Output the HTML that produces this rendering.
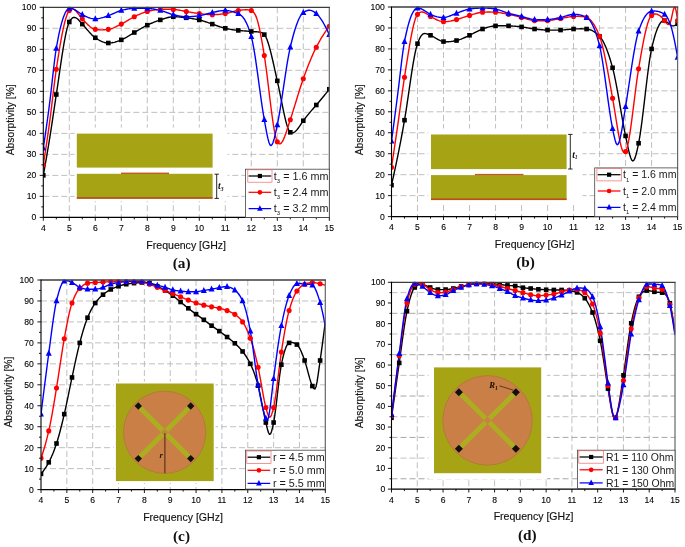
<!DOCTYPE html>
<html lang="en"><head><meta charset="utf-8"><title>Absorptivity versus frequency - parametric study</title>
<style>html,body{margin:0;padding:0;background:#fff}body{width:685px;height:547px;overflow:hidden}svg{display:block;filter:blur(0.55px)}</style>
</head><body>
<svg width="685" height="547" viewBox="0 0 685 547">
<rect width="685" height="547" fill="#fff"/>
<g id="panel-a">
<clipPath id="clip-a"><rect x="43.3" y="6.7" width="286.4" height="210.7"/></clipPath>
<path d="M69.3 7.3 V217.4 M95.3 7.3 V217.4 M121.3 7.3 V217.4 M147.3 7.3 V217.4 M173.3 7.3 V217.4 M199.3 7.3 V217.4 M225.3 7.3 V217.4 M251.3 7.3 V217.4 M277.3 7.3 V217.4 M303.3 7.3 V217.4 M43.3 196.39 H329.3 M43.3 175.38 H329.3 M43.3 154.37 H329.3 M43.3 133.36 H329.3 M43.3 112.35 H329.3 M43.3 91.34 H329.3 M43.3 70.33 H329.3 M43.3 49.32 H329.3 M43.3 28.31 H329.3" stroke="#b0b0b0" stroke-width="0.8" stroke-dasharray="6 3" fill="none"/>
<rect x="74.6" y="127.6" width="153" height="73.6" fill="#fff"/>
<rect x="76.8" y="133.6" width="135.8" height="34" fill="#a6a414"/>
<rect x="76.8" y="173.8" width="135.8" height="24.8" fill="#a6a414"/>
<rect x="76.8" y="197.1" width="135.8" height="1.7" fill="#b9501c"/>
<rect x="121" y="172.6" width="48" height="1.4" fill="#be5a22"/>
<path d="M216.7 174.2 V198.4 M214.5 174.2 h4.4 M214.5 198.4 h4.4" stroke="#111" stroke-width="0.9" fill="none"/>
<text x="218" y="189.3" font-family="'Liberation Serif', serif" font-style="italic" font-weight="bold" font-size="9.6" fill="#111">t<tspan font-size="5.6" dy="1.8">3</tspan></text>
<g clip-path="url(#clip-a)">
<path d="M43.3 175.38 L44.34 169.6 L45.38 163.73 L46.42 157.77 L47.46 151.69 L48.5 145.5 L49.54 139.17 L50.58 132.65 L51.62 125.88 L52.66 118.93 L53.7 111.9 L54.74 104.87 L55.78 97.91 L56.82 91.06 L57.86 84.04 L58.9 76.88 L59.94 69.7 L60.98 62.61 L62.02 55.71 L63.06 49.12 L64.1 42.94 L65.14 37.28 L66.18 32.25 L67.22 27.95 L68.26 24.5 L69.3 22.01 L70.34 20.24 L71.38 18.9 L72.42 17.98 L73.46 17.48 L74.5 17.38 L75.54 17.66 L76.58 18.25 L77.62 19.07 L78.66 20.07 L79.7 21.2 L80.74 22.37 L81.78 23.54 L82.82 24.67 L83.86 25.82 L84.9 27.01 L85.94 28.23 L86.98 29.44 L88.02 30.66 L89.06 31.85 L90.1 33 L91.14 34.11 L92.18 35.16 L93.22 36.12 L94.26 37 L95.3 37.76 L96.34 38.46 L97.38 39.12 L98.42 39.75 L99.46 40.33 L100.5 40.87 L101.54 41.35 L102.58 41.79 L103.62 42.16 L104.66 42.48 L105.7 42.72 L106.74 42.9 L107.78 43 L108.82 43.02 L109.86 42.98 L110.9 42.89 L111.94 42.75 L112.98 42.56 L114.02 42.33 L115.06 42.06 L116.1 41.75 L117.14 41.42 L118.18 41.06 L119.22 40.68 L120.26 40.28 L121.3 39.87 L122.34 39.42 L123.38 38.94 L124.42 38.41 L125.46 37.85 L126.5 37.26 L127.54 36.65 L128.58 36.02 L129.62 35.38 L130.66 34.73 L131.7 34.09 L132.74 33.45 L133.78 32.82 L134.82 32.21 L135.86 31.59 L136.9 30.97 L137.94 30.35 L138.98 29.73 L140.02 29.12 L141.06 28.51 L142.1 27.91 L143.14 27.33 L144.18 26.76 L145.22 26.2 L146.26 25.67 L147.3 25.16 L148.34 24.67 L149.38 24.18 L150.42 23.72 L151.46 23.26 L152.5 22.82 L153.54 22.38 L154.58 21.97 L155.62 21.56 L156.66 21.17 L157.7 20.79 L158.74 20.43 L159.78 20.08 L160.82 19.74 L161.86 19.39 L162.9 19.05 L163.94 18.72 L164.98 18.39 L166.02 18.08 L167.06 17.79 L168.1 17.52 L169.14 17.29 L170.18 17.09 L171.22 16.93 L172.26 16.82 L173.3 16.75 L174.34 16.73 L175.38 16.74 L176.42 16.77 L177.46 16.83 L178.5 16.9 L179.54 17 L180.58 17.1 L181.62 17.22 L182.66 17.34 L183.7 17.48 L184.74 17.61 L185.78 17.74 L186.82 17.87 L187.86 18 L188.9 18.14 L189.94 18.27 L190.98 18.42 L192.02 18.57 L193.06 18.73 L194.1 18.9 L195.14 19.07 L196.18 19.26 L197.22 19.46 L198.26 19.68 L199.3 19.91 L200.34 20.16 L201.38 20.43 L202.42 20.73 L203.46 21.05 L204.5 21.38 L205.54 21.73 L206.58 22.09 L207.62 22.45 L208.66 22.82 L209.7 23.19 L210.74 23.56 L211.78 23.93 L212.82 24.29 L213.86 24.65 L214.9 25.02 L215.94 25.39 L216.98 25.76 L218.02 26.12 L219.06 26.48 L220.1 26.82 L221.14 27.16 L222.18 27.48 L223.22 27.78 L224.26 28.06 L225.3 28.31 L226.34 28.54 L227.38 28.77 L228.42 28.97 L229.46 29.17 L230.5 29.36 L231.54 29.53 L232.58 29.69 L233.62 29.84 L234.66 29.99 L235.7 30.12 L236.74 30.24 L237.78 30.36 L238.82 30.46 L239.86 30.56 L240.9 30.66 L241.94 30.75 L242.98 30.83 L244.02 30.91 L245.06 30.99 L246.1 31.07 L247.14 31.15 L248.18 31.22 L249.22 31.3 L250.26 31.38 L251.3 31.46 L252.34 31.54 L253.38 31.62 L254.42 31.68 L255.46 31.75 L256.5 31.81 L257.54 31.87 L258.58 31.94 L259.62 32.08 L260.66 32.32 L261.7 32.72 L262.74 33.3 L263.78 34.11 L264.82 35.24 L265.86 36.99 L266.9 39.34 L267.94 42.23 L268.98 45.58 L270.02 49.33 L271.06 53.41 L272.1 57.75 L273.14 62.27 L274.18 66.91 L275.22 71.59 L276.26 76.26 L277.3 80.84 L278.34 85.53 L279.38 90.52 L280.42 95.69 L281.46 100.93 L282.5 106.13 L283.54 111.18 L284.58 115.95 L285.62 120.34 L286.66 124.23 L287.7 127.52 L288.74 130.08 L289.78 131.8 L290.82 132.64 L291.86 132.98 L292.9 132.91 L293.94 132.5 L294.98 131.78 L296.02 130.81 L297.06 129.63 L298.1 128.29 L299.14 126.82 L300.18 125.29 L301.22 123.74 L302.26 122.21 L303.3 120.75 L304.34 119.36 L305.38 118.01 L306.42 116.68 L307.46 115.38 L308.5 114.1 L309.54 112.85 L310.58 111.61 L311.62 110.39 L312.66 109.18 L313.7 107.98 L314.74 106.78 L315.78 105.59 L316.82 104.4 L317.86 103.19 L318.9 101.97 L319.94 100.73 L320.98 99.49 L322.02 98.23 L323.06 96.96 L324.1 95.69 L325.14 94.41 L326.18 93.12 L327.22 91.83 L328.26 90.53 L329.3 89.24" stroke="#000000" stroke-width="1.4" fill="none" stroke-linejoin="round"/>
<path d="M43.3 164.88 L44.34 158.26 L45.38 151.51 L46.42 144.61 L47.46 137.52 L48.5 130.22 L49.54 122.68 L50.58 114.77 L51.62 106.34 L52.66 97.67 L53.7 89.02 L54.74 80.66 L55.78 72.88 L56.82 65.82 L57.86 59.04 L58.9 52.49 L59.94 46.22 L60.98 40.28 L62.02 34.71 L63.06 29.57 L64.1 24.91 L65.14 20.77 L66.18 17.2 L67.22 14.26 L68.26 12 L69.3 10.45 L70.34 9.45 L71.38 8.87 L72.42 8.79 L73.46 9.11 L74.5 9.74 L75.54 10.63 L76.58 11.72 L77.62 12.96 L78.66 14.29 L79.7 15.66 L80.74 17 L81.78 18.27 L82.82 19.42 L83.86 20.56 L84.9 21.69 L85.94 22.8 L86.98 23.87 L88.02 24.88 L89.06 25.83 L90.1 26.7 L91.14 27.48 L92.18 28.15 L93.22 28.69 L94.26 29.1 L95.3 29.36 L96.34 29.52 L97.38 29.65 L98.42 29.74 L99.46 29.81 L100.5 29.84 L101.54 29.85 L102.58 29.83 L103.62 29.79 L104.66 29.73 L105.7 29.65 L106.74 29.54 L107.78 29.43 L108.82 29.28 L109.86 29.08 L110.9 28.81 L111.94 28.48 L112.98 28.1 L114.02 27.68 L115.06 27.22 L116.1 26.74 L117.14 26.23 L118.18 25.7 L119.22 25.17 L120.26 24.64 L121.3 24.11 L122.34 23.57 L123.38 23.01 L124.42 22.42 L125.46 21.82 L126.5 21.2 L127.54 20.58 L128.58 19.96 L129.62 19.34 L130.66 18.73 L131.7 18.14 L132.74 17.57 L133.78 17.02 L134.82 16.5 L135.86 15.98 L136.9 15.48 L137.94 14.99 L138.98 14.52 L140.02 14.06 L141.06 13.62 L142.1 13.2 L143.14 12.81 L144.18 12.44 L145.22 12.09 L146.26 11.78 L147.3 11.5 L148.34 11.24 L149.38 11 L150.42 10.76 L151.46 10.54 L152.5 10.34 L153.54 10.15 L154.58 9.98 L155.62 9.82 L156.66 9.69 L157.7 9.58 L158.74 9.49 L159.78 9.42 L160.82 9.38 L161.86 9.35 L162.9 9.32 L163.94 9.29 L164.98 9.28 L166.02 9.27 L167.06 9.26 L168.1 9.27 L169.14 9.28 L170.18 9.29 L171.22 9.32 L172.26 9.36 L173.3 9.4 L174.34 9.47 L175.38 9.57 L176.42 9.69 L177.46 9.84 L178.5 10.01 L179.54 10.2 L180.58 10.39 L181.62 10.6 L182.66 10.81 L183.7 11.01 L184.74 11.22 L185.78 11.41 L186.82 11.59 L187.86 11.78 L188.9 11.96 L189.94 12.14 L190.98 12.33 L192.02 12.51 L193.06 12.68 L194.1 12.86 L195.14 13.02 L196.18 13.18 L197.22 13.33 L198.26 13.47 L199.3 13.6 L200.34 13.73 L201.38 13.85 L202.42 13.97 L203.46 14.08 L204.5 14.19 L205.54 14.29 L206.58 14.38 L207.62 14.46 L208.66 14.53 L209.7 14.58 L210.74 14.62 L211.78 14.65 L212.82 14.65 L213.86 14.64 L214.9 14.62 L215.94 14.57 L216.98 14.51 L218.02 14.44 L219.06 14.36 L220.1 14.26 L221.14 14.15 L222.18 14.03 L223.22 13.9 L224.26 13.75 L225.3 13.6 L226.34 13.42 L227.38 13.21 L228.42 12.95 L229.46 12.68 L230.5 12.38 L231.54 12.08 L232.58 11.78 L233.62 11.48 L234.66 11.2 L235.7 10.94 L236.74 10.72 L237.78 10.53 L238.82 10.38 L239.86 10.24 L240.9 10.11 L241.94 10 L242.98 9.9 L244.02 9.83 L245.06 9.78 L246.1 9.78 L247.14 9.81 L248.18 9.89 L249.22 10.02 L250.26 10.2 L251.3 10.45 L252.34 10.98 L253.38 11.97 L254.42 13.37 L255.46 15.14 L256.5 17.62 L257.54 20.9 L258.58 24.89 L259.62 29.5 L260.66 34.64 L261.7 40.24 L262.74 46.2 L263.78 52.43 L264.82 58.95 L265.86 66.23 L266.9 74.15 L267.94 82.5 L268.98 91.07 L270.02 99.65 L271.06 108.01 L272.1 115.95 L273.14 123.25 L274.18 129.69 L275.22 135.07 L276.26 139.17 L277.3 141.76 L278.34 143.18 L279.38 143.83 L280.42 143.7 L281.46 142.84 L282.5 141.35 L283.54 139.33 L284.58 136.86 L285.62 134.06 L286.66 131 L287.7 127.79 L288.74 124.52 L289.78 121.28 L290.82 118.13 L291.86 114.92 L292.9 111.63 L293.94 108.27 L294.98 104.88 L296.02 101.47 L297.06 98.06 L298.1 94.66 L299.14 91.31 L300.18 88.03 L301.22 84.82 L302.26 81.72 L303.3 78.73 L304.34 75.84 L305.38 73 L306.42 70.22 L307.46 67.49 L308.5 64.83 L309.54 62.23 L310.58 59.7 L311.62 57.24 L312.66 54.86 L313.7 52.57 L314.74 50.36 L315.78 48.24 L316.82 46.21 L317.86 44.25 L318.9 42.35 L319.94 40.5 L320.98 38.71 L322.02 36.98 L323.06 35.3 L324.1 33.67 L325.14 32.08 L326.18 30.55 L327.22 29.06 L328.26 27.61 L329.3 26.21" stroke="#ff0000" stroke-width="1.4" fill="none" stroke-linejoin="round"/>
<path d="M43.3 148.07 L44.34 141.17 L45.38 134.13 L46.42 126.92 L47.46 119.5 L48.5 111.83 L49.54 103.88 L50.58 95.44 L51.62 86.32 L52.66 76.93 L53.7 67.71 L54.74 59.09 L55.78 51.52 L56.82 45.28 L57.86 39.63 L58.9 34.43 L59.94 29.7 L60.98 25.43 L62.02 21.62 L63.06 18.28 L64.1 15.42 L65.14 13.04 L66.18 11.13 L67.22 9.71 L68.26 8.79 L69.3 8.35 L70.34 8.26 L71.38 8.37 L72.42 8.63 L73.46 9.03 L74.5 9.55 L75.54 10.16 L76.58 10.84 L77.62 11.55 L78.66 12.29 L79.7 13.02 L80.74 13.72 L81.78 14.36 L82.82 14.93 L83.86 15.48 L84.9 16 L85.94 16.49 L86.98 16.94 L88.02 17.36 L89.06 17.74 L90.1 18.07 L91.14 18.34 L92.18 18.57 L93.22 18.73 L94.26 18.83 L95.3 18.86 L96.34 18.82 L97.38 18.73 L98.42 18.59 L99.46 18.4 L100.5 18.18 L101.54 17.91 L102.58 17.62 L103.62 17.31 L104.66 16.97 L105.7 16.62 L106.74 16.26 L107.78 15.89 L108.82 15.52 L109.86 15.11 L110.9 14.68 L111.94 14.23 L112.98 13.76 L114.02 13.29 L115.06 12.82 L116.1 12.36 L117.14 11.92 L118.18 11.5 L119.22 11.11 L120.26 10.76 L121.3 10.45 L122.34 10.18 L123.38 9.92 L124.42 9.68 L125.46 9.45 L126.5 9.25 L127.54 9.06 L128.58 8.89 L129.62 8.74 L130.66 8.61 L131.7 8.51 L132.74 8.43 L133.78 8.37 L134.82 8.34 L135.86 8.31 L136.9 8.29 L137.94 8.27 L138.98 8.26 L140.02 8.25 L141.06 8.25 L142.1 8.25 L143.14 8.26 L144.18 8.27 L145.22 8.29 L146.26 8.32 L147.3 8.35 L148.34 8.4 L149.38 8.48 L150.42 8.58 L151.46 8.7 L152.5 8.85 L153.54 9.01 L154.58 9.2 L155.62 9.4 L156.66 9.61 L157.7 9.84 L158.74 10.08 L159.78 10.32 L160.82 10.58 L161.86 10.87 L162.9 11.19 L163.94 11.53 L164.98 11.89 L166.02 12.26 L167.06 12.64 L168.1 13.01 L169.14 13.38 L170.18 13.73 L171.22 14.07 L172.26 14.38 L173.3 14.65 L174.34 14.91 L175.38 15.16 L176.42 15.4 L177.46 15.63 L178.5 15.84 L179.54 16.04 L180.58 16.21 L181.62 16.37 L182.66 16.5 L183.7 16.61 L184.74 16.69 L185.78 16.74 L186.82 16.76 L187.86 16.76 L188.9 16.74 L189.94 16.7 L190.98 16.64 L192.02 16.57 L193.06 16.48 L194.1 16.38 L195.14 16.27 L196.18 16.14 L197.22 16.01 L198.26 15.86 L199.3 15.7 L200.34 15.53 L201.38 15.33 L202.42 15.1 L203.46 14.85 L204.5 14.59 L205.54 14.32 L206.58 14.04 L207.62 13.76 L208.66 13.47 L209.7 13.2 L210.74 12.93 L211.78 12.67 L212.82 12.43 L213.86 12.19 L214.9 11.95 L215.94 11.71 L216.98 11.48 L218.02 11.26 L219.06 11.06 L220.1 10.88 L221.14 10.73 L222.18 10.6 L223.22 10.51 L224.26 10.46 L225.3 10.45 L226.34 10.49 L227.38 10.57 L228.42 10.7 L229.46 10.87 L230.5 11.07 L231.54 11.32 L232.58 11.59 L233.62 11.9 L234.66 12.23 L235.7 12.6 L236.74 12.98 L237.78 13.39 L238.82 13.84 L239.86 14.42 L240.9 15.19 L241.94 16.15 L242.98 17.32 L244.02 18.73 L245.06 20.39 L246.1 22.32 L247.14 24.55 L248.18 27.08 L249.22 29.94 L250.26 33.14 L251.3 36.71 L252.34 40.98 L253.38 46.17 L254.42 52.13 L255.46 58.71 L256.5 65.79 L257.54 73.2 L258.58 80.81 L259.62 88.47 L260.66 96.04 L261.7 103.37 L262.74 110.31 L263.78 116.74 L264.82 122.6 L265.86 128.38 L266.9 133.85 L267.94 138.66 L268.98 142.44 L270.02 144.85 L271.06 145.55 L272.1 144.56 L273.14 142.21 L274.18 138.79 L275.22 134.58 L276.26 129.88 L277.3 124.96 L278.34 119.7 L279.38 113.86 L280.42 107.57 L281.46 100.93 L282.5 94.07 L283.54 87.1 L284.58 80.14 L285.62 73.3 L286.66 66.7 L287.7 60.47 L288.74 54.71 L289.78 49.54 L290.82 45.02 L291.86 40.78 L292.9 36.79 L293.94 33.04 L294.98 29.56 L296.02 26.35 L297.06 23.42 L298.1 20.8 L299.14 18.48 L300.18 16.48 L301.22 14.82 L302.26 13.51 L303.3 12.55 L304.34 11.84 L305.38 11.25 L306.42 10.8 L307.46 10.47 L308.5 10.28 L309.54 10.23 L310.58 10.34 L311.62 10.62 L312.66 11.07 L313.7 11.65 L314.74 12.36 L315.78 13.17 L316.82 14.07 L317.86 15.12 L318.9 16.32 L319.94 17.66 L320.98 19.13 L322.02 20.73 L323.06 22.45 L324.1 24.27 L325.14 26.18 L326.18 28.18 L327.22 30.26 L328.26 32.41 L329.3 34.61" stroke="#0000ff" stroke-width="1.4" fill="none" stroke-linejoin="round"/>
<rect x="41" y="173.08" width="4.6" height="4.6" fill="#000000"/>
<rect x="54" y="92.19" width="4.6" height="4.6" fill="#000000"/>
<rect x="67" y="19.71" width="4.6" height="4.6" fill="#000000"/>
<rect x="80" y="21.81" width="4.6" height="4.6" fill="#000000"/>
<rect x="93" y="35.46" width="4.6" height="4.6" fill="#000000"/>
<rect x="106" y="40.72" width="4.6" height="4.6" fill="#000000"/>
<rect x="119" y="37.57" width="4.6" height="4.6" fill="#000000"/>
<rect x="132" y="30.21" width="4.6" height="4.6" fill="#000000"/>
<rect x="145" y="22.86" width="4.6" height="4.6" fill="#000000"/>
<rect x="158" y="17.61" width="4.6" height="4.6" fill="#000000"/>
<rect x="171" y="14.45" width="4.6" height="4.6" fill="#000000"/>
<rect x="184" y="15.51" width="4.6" height="4.6" fill="#000000"/>
<rect x="197" y="17.61" width="4.6" height="4.6" fill="#000000"/>
<rect x="210" y="21.81" width="4.6" height="4.6" fill="#000000"/>
<rect x="223" y="26.01" width="4.6" height="4.6" fill="#000000"/>
<rect x="236" y="28.11" width="4.6" height="4.6" fill="#000000"/>
<rect x="249" y="29.16" width="4.6" height="4.6" fill="#000000"/>
<rect x="262" y="32.31" width="4.6" height="4.6" fill="#000000"/>
<rect x="275" y="78.54" width="4.6" height="4.6" fill="#000000"/>
<rect x="288" y="130.01" width="4.6" height="4.6" fill="#000000"/>
<rect x="301" y="118.45" width="4.6" height="4.6" fill="#000000"/>
<rect x="314" y="102.7" width="4.6" height="4.6" fill="#000000"/>
<rect x="327" y="86.94" width="4.6" height="4.6" fill="#000000"/>
<circle cx="43.3" cy="164.88" r="2.55" fill="#ff0000"/>
<circle cx="56.3" cy="69.28" r="2.55" fill="#ff0000"/>
<circle cx="69.3" cy="10.45" r="2.55" fill="#ff0000"/>
<circle cx="82.3" cy="18.86" r="2.55" fill="#ff0000"/>
<circle cx="95.3" cy="29.36" r="2.55" fill="#ff0000"/>
<circle cx="108.3" cy="29.36" r="2.55" fill="#ff0000"/>
<circle cx="121.3" cy="24.11" r="2.55" fill="#ff0000"/>
<circle cx="134.3" cy="16.75" r="2.55" fill="#ff0000"/>
<circle cx="147.3" cy="11.5" r="2.55" fill="#ff0000"/>
<circle cx="160.3" cy="9.4" r="2.55" fill="#ff0000"/>
<circle cx="173.3" cy="9.4" r="2.55" fill="#ff0000"/>
<circle cx="186.3" cy="11.5" r="2.55" fill="#ff0000"/>
<circle cx="199.3" cy="13.6" r="2.55" fill="#ff0000"/>
<circle cx="212.3" cy="14.65" r="2.55" fill="#ff0000"/>
<circle cx="225.3" cy="13.6" r="2.55" fill="#ff0000"/>
<circle cx="238.3" cy="10.45" r="2.55" fill="#ff0000"/>
<circle cx="251.3" cy="10.45" r="2.55" fill="#ff0000"/>
<circle cx="264.3" cy="55.62" r="2.55" fill="#ff0000"/>
<circle cx="277.3" cy="141.76" r="2.55" fill="#ff0000"/>
<circle cx="290.3" cy="119.7" r="2.55" fill="#ff0000"/>
<circle cx="303.3" cy="78.73" r="2.55" fill="#ff0000"/>
<circle cx="316.3" cy="47.22" r="2.55" fill="#ff0000"/>
<circle cx="329.3" cy="26.21" r="2.55" fill="#ff0000"/>
<path d="M43.3 144.47 L46.3 150.47 L40.3 150.47 Z" fill="#0000ff"/>
<path d="M56.3 44.67 L59.3 50.67 L53.3 50.67 Z" fill="#0000ff"/>
<path d="M69.3 4.75 L72.3 10.75 L66.3 10.75 Z" fill="#0000ff"/>
<path d="M82.3 11.05 L85.3 17.05 L79.3 17.05 Z" fill="#0000ff"/>
<path d="M95.3 15.26 L98.3 21.26 L92.3 21.26 Z" fill="#0000ff"/>
<path d="M108.3 12.1 L111.3 18.1 L105.3 18.1 Z" fill="#0000ff"/>
<path d="M121.3 6.85 L124.3 12.85 L118.3 12.85 Z" fill="#0000ff"/>
<path d="M134.3 4.75 L137.3 10.75 L131.3 10.75 Z" fill="#0000ff"/>
<path d="M147.3 4.75 L150.3 10.75 L144.3 10.75 Z" fill="#0000ff"/>
<path d="M160.3 6.85 L163.3 12.85 L157.3 12.85 Z" fill="#0000ff"/>
<path d="M173.3 11.05 L176.3 17.05 L170.3 17.05 Z" fill="#0000ff"/>
<path d="M186.3 13.15 L189.3 19.15 L183.3 19.15 Z" fill="#0000ff"/>
<path d="M199.3 12.1 L202.3 18.1 L196.3 18.1 Z" fill="#0000ff"/>
<path d="M212.3 8.95 L215.3 14.95 L209.3 14.95 Z" fill="#0000ff"/>
<path d="M225.3 6.85 L228.3 12.85 L222.3 12.85 Z" fill="#0000ff"/>
<path d="M238.3 10 L241.3 16 L235.3 16 Z" fill="#0000ff"/>
<path d="M251.3 33.11 L254.3 39.11 L248.3 39.11 Z" fill="#0000ff"/>
<path d="M264.3 116.1 L267.3 122.1 L261.3 122.1 Z" fill="#0000ff"/>
<path d="M277.3 121.36 L280.3 127.36 L274.3 127.36 Z" fill="#0000ff"/>
<path d="M290.3 43.62 L293.3 49.62 L287.3 49.62 Z" fill="#0000ff"/>
<path d="M303.3 8.95 L306.3 14.95 L300.3 14.95 Z" fill="#0000ff"/>
<path d="M316.3 10 L319.3 16 L313.3 16 Z" fill="#0000ff"/>
<path d="M329.3 31.01 L332.3 37.01 L326.3 37.01 Z" fill="#0000ff"/>
</g>
<path d="M329.3 7.3 V217.4" stroke="#666" stroke-width="1.2" fill="none"/>
<path d="M43.3 7.3 H329.9" stroke="#3c3c3c" stroke-width="1.35" fill="none"/>
<path d="M43.3 6.8 V217.4 H329.8" stroke="#000" stroke-width="1.1" fill="none"/>
<path d="M43.3 217.4 h-3.6 M43.3 196.39 h-3.6 M43.3 175.38 h-3.6 M43.3 154.37 h-3.6 M43.3 133.36 h-3.6 M43.3 112.35 h-3.6 M43.3 91.34 h-3.6 M43.3 70.33 h-3.6 M43.3 49.32 h-3.6 M43.3 28.31 h-3.6 M43.3 7.3 h-3.6 M43.3 206.9 h-2 M43.3 185.88 h-2 M43.3 164.88 h-2 M43.3 143.87 h-2 M43.3 122.86 h-2 M43.3 101.85 h-2 M43.3 80.84 h-2 M43.3 59.83 h-2 M43.3 38.81 h-2 M43.3 17.81 h-2 M43.3 217.4 v3.4 M69.3 217.4 v3.4 M95.3 217.4 v3.4 M121.3 217.4 v3.4 M147.3 217.4 v3.4 M173.3 217.4 v3.4 M199.3 217.4 v3.4 M225.3 217.4 v3.4 M251.3 217.4 v3.4 M277.3 217.4 v3.4 M303.3 217.4 v3.4 M329.3 217.4 v3.4 M56.3 217.4 v2 M82.3 217.4 v2 M108.3 217.4 v2 M134.3 217.4 v2 M160.3 217.4 v2 M186.3 217.4 v2 M212.3 217.4 v2 M238.3 217.4 v2 M264.3 217.4 v2 M290.3 217.4 v2 M316.3 217.4 v2" stroke="#000" stroke-width="0.9" fill="none"/>
<g font-family="'Liberation Sans', sans-serif" font-size="8.6" fill="#000" stroke="#000" stroke-width="0.1">
<text x="36.2" y="220.3" text-anchor="end">0</text>
<text x="36.2" y="199.29" text-anchor="end">10</text>
<text x="36.2" y="178.28" text-anchor="end">20</text>
<text x="36.2" y="157.27" text-anchor="end">30</text>
<text x="36.2" y="136.26" text-anchor="end">40</text>
<text x="36.2" y="115.25" text-anchor="end">50</text>
<text x="36.2" y="94.24" text-anchor="end">60</text>
<text x="36.2" y="73.23" text-anchor="end">70</text>
<text x="36.2" y="52.22" text-anchor="end">80</text>
<text x="36.2" y="31.21" text-anchor="end">90</text>
<text x="36.2" y="10.2" text-anchor="end">100</text>
<text x="43.3" y="231.1" text-anchor="middle">4</text>
<text x="69.3" y="231.1" text-anchor="middle">5</text>
<text x="95.3" y="231.1" text-anchor="middle">6</text>
<text x="121.3" y="231.1" text-anchor="middle">7</text>
<text x="147.3" y="231.1" text-anchor="middle">8</text>
<text x="173.3" y="231.1" text-anchor="middle">9</text>
<text x="199.3" y="231.1" text-anchor="middle">10</text>
<text x="225.3" y="231.1" text-anchor="middle">11</text>
<text x="251.3" y="231.1" text-anchor="middle">12</text>
<text x="277.3" y="231.1" text-anchor="middle">13</text>
<text x="303.3" y="231.1" text-anchor="middle">14</text>
<text x="329.3" y="231.1" text-anchor="middle">15</text>
</g>
<text x="186.2" y="248.6" text-anchor="middle" font-family="'Liberation Sans', sans-serif" font-size="10.55" fill="#111" stroke="#111" stroke-width="0.15">Frequency [GHz]</text>
<text transform="translate(13.6 119.8) rotate(-90)" text-anchor="middle" font-family="'Liberation Sans', sans-serif" font-size="10.3" fill="#111" stroke="#111" stroke-width="0.15">Absorptivity [%]</text>
<text x="181.6" y="268.2" text-anchor="middle" font-family="'Liberation Serif', serif" font-weight="bold" font-size="15.3" fill="#111">(a)</text>
<rect x="245.4" y="169.2" width="83.9" height="48.2" fill="#fff" stroke="#444" stroke-width="0.8"/>
<rect x="247.8" y="169.8" width="24.2" height="12.4" fill="none" stroke="#f06a6a" stroke-width="0.7"/>
<path d="M248.6 176 H271.2" stroke="#000000" stroke-width="1.25"/>
<rect x="257.8" y="173.9" width="4.2" height="4.2" fill="#000000"/>
<text x="273.8" y="179.7" font-family="'Liberation Sans', sans-serif" font-size="10.8" fill="#1a1a1a" xml:space="preserve">t<tspan font-size="6.05" dy="3.1">3</tspan><tspan dy="-3.1"> = 1.6 mm</tspan></text>
<path d="M248.6 192.3 H271.2" stroke="#ff0000" stroke-width="1.25"/>
<circle cx="259.9" cy="192.3" r="2.35" fill="#ff0000"/>
<text x="273.8" y="196" font-family="'Liberation Sans', sans-serif" font-size="10.8" fill="#1a1a1a" xml:space="preserve">t<tspan font-size="6.05" dy="3.1">3</tspan><tspan dy="-3.1"> = 2.4 mm</tspan></text>
<path d="M248.6 208.6 H271.2" stroke="#0000ff" stroke-width="1.25"/>
<path d="M259.9 205.2 L262.7 210.8 L257.1 210.8 Z" fill="#0000ff"/>
<text x="273.8" y="212.3" font-family="'Liberation Sans', sans-serif" font-size="10.8" fill="#1a1a1a" xml:space="preserve">t<tspan font-size="6.05" dy="3.1">3</tspan><tspan dy="-3.1"> = 3.2 mm</tspan></text>
</g>
<g id="panel-b">
<clipPath id="clip-b"><rect x="391.5" y="6.4" width="286.5" height="210.2"/></clipPath>
<path d="M417.51 7 V216.6 M443.52 7 V216.6 M469.53 7 V216.6 M495.54 7 V216.6 M521.55 7 V216.6 M547.55 7 V216.6 M573.56 7 V216.6 M599.57 7 V216.6 M625.58 7 V216.6 M651.59 7 V216.6 M391.5 195.64 H677.6 M391.5 174.68 H677.6 M391.5 153.72 H677.6 M391.5 132.76 H677.6 M391.5 111.8 H677.6 M391.5 90.84 H677.6 M391.5 69.88 H677.6 M391.5 48.92 H677.6 M391.5 27.96 H677.6" stroke="#b0b0b0" stroke-width="0.8" stroke-dasharray="6 3" fill="none"/>
<rect x="428.3" y="128.5" width="154.2" height="74.2" fill="#fff"/>
<rect x="431" y="134.5" width="135.6" height="34.6" fill="#a6a414"/>
<rect x="431" y="175.1" width="135.6" height="24.8" fill="#a6a414"/>
<rect x="431" y="198.4" width="135.6" height="1.7" fill="#b9501c"/>
<rect x="474.9" y="173.9" width="48.6" height="1.4" fill="#be5a22"/>
<path d="M570.3 134.4 V169 M568.1 134.4 h4.4 M568.1 169 h4.4" stroke="#111" stroke-width="0.9" fill="none"/>
<text x="572.2" y="157.6" font-family="'Liberation Serif', serif" font-style="italic" font-weight="bold" font-size="9.6" fill="#111">t<tspan font-size="5.6" dy="1.8">1</tspan></text>
<g clip-path="url(#clip-b)">
<path d="M391.5 185.16 L392.54 180.47 L393.58 175.73 L394.62 170.91 L395.66 166.03 L396.7 161.08 L397.74 156.04 L398.78 150.91 L399.82 145.67 L400.86 140.28 L401.9 134.75 L402.94 129.06 L403.98 123.19 L405.02 117.09 L406.07 110.58 L407.11 103.72 L408.15 96.65 L409.19 89.48 L410.23 82.35 L411.27 75.37 L412.31 68.67 L413.35 62.37 L414.39 56.6 L415.43 51.48 L416.47 47.13 L417.51 43.68 L418.55 40.92 L419.59 38.57 L420.63 36.65 L421.67 35.18 L422.71 34.18 L423.75 33.67 L424.79 33.57 L425.83 33.66 L426.87 33.89 L427.91 34.22 L428.95 34.62 L429.99 35.07 L431.03 35.53 L432.07 36.05 L433.11 36.62 L434.15 37.23 L435.2 37.86 L436.24 38.49 L437.28 39.1 L438.32 39.69 L439.36 40.23 L440.4 40.7 L441.44 41.1 L442.48 41.4 L443.52 41.58 L444.56 41.69 L445.6 41.75 L446.64 41.77 L447.68 41.76 L448.72 41.71 L449.76 41.63 L450.8 41.53 L451.84 41.39 L452.88 41.24 L453.92 41.06 L454.96 40.86 L456 40.65 L457.04 40.42 L458.08 40.14 L459.12 39.82 L460.16 39.46 L461.2 39.07 L462.24 38.65 L463.29 38.21 L464.33 37.74 L465.37 37.26 L466.41 36.77 L467.45 36.28 L468.49 35.78 L469.53 35.3 L470.57 34.8 L471.61 34.28 L472.65 33.75 L473.69 33.21 L474.73 32.66 L475.77 32.12 L476.81 31.58 L477.85 31.05 L478.89 30.55 L479.93 30.07 L480.97 29.62 L482.01 29.2 L483.05 28.82 L484.09 28.46 L485.13 28.1 L486.17 27.76 L487.21 27.44 L488.25 27.14 L489.29 26.86 L490.33 26.61 L491.37 26.39 L492.42 26.2 L493.46 26.05 L494.5 25.94 L495.54 25.86 L496.58 25.82 L497.62 25.79 L498.66 25.76 L499.7 25.75 L500.74 25.74 L501.78 25.74 L502.82 25.75 L503.86 25.76 L504.9 25.78 L505.94 25.8 L506.98 25.83 L508.02 25.85 L509.06 25.88 L510.1 25.92 L511.14 25.96 L512.18 26.02 L513.22 26.09 L514.26 26.17 L515.3 26.25 L516.34 26.35 L517.38 26.45 L518.42 26.56 L519.46 26.67 L520.51 26.79 L521.55 26.91 L522.59 27.05 L523.63 27.2 L524.67 27.36 L525.71 27.54 L526.75 27.72 L527.79 27.91 L528.83 28.1 L529.87 28.28 L530.91 28.46 L531.95 28.64 L532.99 28.8 L534.03 28.94 L535.07 29.07 L536.11 29.2 L537.15 29.31 L538.19 29.43 L539.23 29.53 L540.27 29.63 L541.31 29.72 L542.35 29.8 L543.39 29.88 L544.43 29.94 L545.47 29.99 L546.51 30.03 L547.55 30.06 L548.59 30.07 L549.64 30.09 L550.68 30.1 L551.72 30.11 L552.76 30.12 L553.8 30.13 L554.84 30.13 L555.88 30.12 L556.92 30.12 L557.96 30.1 L559 30.09 L560.04 30.07 L561.08 30.04 L562.12 29.99 L563.16 29.92 L564.2 29.84 L565.24 29.75 L566.28 29.64 L567.32 29.54 L568.36 29.43 L569.4 29.32 L570.44 29.22 L571.48 29.14 L572.52 29.06 L573.56 29.01 L574.6 28.96 L575.64 28.92 L576.68 28.89 L577.73 28.86 L578.77 28.83 L579.81 28.82 L580.85 28.81 L581.89 28.82 L582.93 28.83 L583.97 28.86 L585.01 28.91 L586.05 28.97 L587.09 29.06 L588.13 29.22 L589.17 29.46 L590.21 29.79 L591.25 30.2 L592.29 30.68 L593.33 31.25 L594.37 31.9 L595.41 32.63 L596.45 33.44 L597.49 34.33 L598.53 35.3 L599.57 36.34 L600.61 37.55 L601.65 39 L602.69 40.68 L603.73 42.59 L604.77 44.74 L605.81 47.11 L606.86 49.7 L607.9 52.51 L608.94 55.54 L609.98 58.78 L611.02 62.23 L612.06 65.88 L613.1 69.78 L614.14 74.19 L615.18 79.07 L616.22 84.34 L617.26 89.92 L618.3 95.72 L619.34 101.68 L620.38 107.69 L621.42 113.69 L622.46 119.6 L623.5 125.32 L624.54 130.78 L625.58 135.9 L626.62 140.91 L627.66 145.9 L628.7 150.59 L629.74 154.73 L630.78 158.04 L631.82 160.23 L632.86 161.06 L633.9 160.29 L634.95 158.11 L635.99 154.78 L637.03 150.57 L638.07 145.78 L639.11 140.53 L640.15 134.28 L641.19 127.12 L642.23 119.23 L643.27 110.82 L644.31 102.1 L645.35 93.25 L646.39 84.49 L647.43 76 L648.47 68.01 L649.51 60.69 L650.55 54.26 L651.59 48.92 L652.63 44.38 L653.67 40.24 L654.71 36.49 L655.75 33.13 L656.79 30.17 L657.83 27.6 L658.87 25.43 L659.91 23.66 L660.95 22.29 L661.99 21.31 L663.03 20.74 L664.08 20.56 L665.12 20.79 L666.16 21.37 L667.2 22.19 L668.24 23.14 L669.28 24.09 L670.32 24.94 L671.36 25.57 L672.4 25.86 L673.44 25.82 L674.48 25.56 L675.52 25.11 L676.56 24.5 L677.6 23.77" stroke="#000000" stroke-width="1.4" fill="none" stroke-linejoin="round"/>
<path d="M391.5 167.34 L392.54 160.43 L393.58 153.48 L394.62 146.49 L395.66 139.44 L396.7 132.33 L397.74 125.14 L398.78 117.81 L399.82 110.27 L400.86 102.65 L401.9 95.07 L402.94 87.68 L403.98 80.6 L405.02 73.89 L406.07 67.2 L407.11 60.55 L408.15 54.02 L409.19 47.69 L410.23 41.65 L411.27 35.97 L412.31 30.75 L413.35 26.06 L414.39 21.99 L415.43 18.63 L416.47 16.05 L417.51 14.34 L418.55 13.27 L419.59 12.55 L420.63 12.12 L421.67 11.97 L422.71 12.03 L423.75 12.3 L424.79 12.75 L425.83 13.34 L426.87 14.02 L427.91 14.74 L428.95 15.46 L429.99 16.13 L431.03 16.72 L432.07 17.31 L433.11 17.88 L434.15 18.45 L435.2 19 L436.24 19.51 L437.28 19.99 L438.32 20.43 L439.36 20.82 L440.4 21.14 L441.44 21.4 L442.48 21.58 L443.52 21.67 L444.56 21.7 L445.6 21.67 L446.64 21.61 L447.68 21.5 L448.72 21.35 L449.76 21.18 L450.8 20.98 L451.84 20.75 L452.88 20.51 L453.92 20.25 L454.96 19.98 L456 19.71 L457.04 19.44 L458.08 19.14 L459.12 18.83 L460.16 18.5 L461.2 18.15 L462.24 17.8 L463.29 17.44 L464.33 17.09 L465.37 16.73 L466.41 16.38 L467.45 16.03 L468.49 15.7 L469.53 15.38 L470.57 15.07 L471.61 14.75 L472.65 14.43 L473.69 14.11 L474.73 13.8 L475.77 13.51 L476.81 13.23 L477.85 12.97 L478.89 12.75 L479.93 12.55 L480.97 12.39 L482.01 12.28 L483.05 12.21 L484.09 12.15 L485.13 12.11 L486.17 12.08 L487.21 12.06 L488.25 12.05 L489.29 12.06 L490.33 12.07 L491.37 12.08 L492.42 12.11 L493.46 12.15 L494.5 12.19 L495.54 12.24 L496.58 12.31 L497.62 12.4 L498.66 12.52 L499.7 12.66 L500.74 12.82 L501.78 13 L502.82 13.19 L503.86 13.39 L504.9 13.59 L505.94 13.8 L506.98 14.02 L508.02 14.23 L509.06 14.44 L510.1 14.66 L511.14 14.89 L512.18 15.13 L513.22 15.37 L514.26 15.62 L515.3 15.88 L516.34 16.14 L517.38 16.4 L518.42 16.67 L519.46 16.94 L520.51 17.21 L521.55 17.48 L522.59 17.76 L523.63 18.06 L524.67 18.36 L525.71 18.67 L526.75 18.98 L527.79 19.29 L528.83 19.57 L529.87 19.84 L530.91 20.08 L531.95 20.29 L532.99 20.46 L534.03 20.58 L535.07 20.66 L536.11 20.72 L537.15 20.76 L538.19 20.8 L539.23 20.82 L540.27 20.83 L541.31 20.83 L542.35 20.81 L543.39 20.79 L544.43 20.76 L545.47 20.72 L546.51 20.68 L547.55 20.62 L548.59 20.55 L549.64 20.45 L550.68 20.32 L551.72 20.17 L552.76 20 L553.8 19.81 L554.84 19.62 L555.88 19.42 L556.92 19.21 L557.96 19.01 L559 18.81 L560.04 18.62 L561.08 18.44 L562.12 18.25 L563.16 18.05 L564.2 17.85 L565.24 17.65 L566.28 17.45 L567.32 17.25 L568.36 17.07 L569.4 16.9 L570.44 16.75 L571.48 16.62 L572.52 16.51 L573.56 16.43 L574.6 16.37 L575.64 16.33 L576.68 16.3 L577.73 16.3 L578.77 16.31 L579.81 16.36 L580.85 16.43 L581.89 16.53 L582.93 16.67 L583.97 16.85 L585.01 17.07 L586.05 17.33 L587.09 17.66 L588.13 18.16 L589.17 18.86 L590.21 19.75 L591.25 20.83 L592.29 22.1 L593.33 23.57 L594.37 25.22 L595.41 27.07 L596.45 29.1 L597.49 31.33 L598.53 33.74 L599.57 36.34 L600.61 39.33 L601.65 42.85 L602.69 46.85 L603.73 51.27 L604.77 56.07 L605.81 61.17 L606.86 66.54 L607.9 72.11 L608.94 77.82 L609.98 83.63 L611.02 89.47 L612.06 95.29 L613.1 101.11 L614.14 107.29 L615.18 113.73 L616.22 120.25 L617.26 126.64 L618.3 132.74 L619.34 138.35 L620.38 143.29 L621.42 147.38 L622.46 150.42 L623.5 152.23 L624.54 152.63 L625.58 151.62 L626.62 149.33 L627.66 145.54 L628.7 140.47 L629.74 134.33 L630.78 127.34 L631.82 119.7 L632.86 111.62 L633.9 103.32 L634.95 95 L635.99 86.88 L637.03 79.17 L638.07 72.08 L639.11 65.71 L640.15 59.55 L641.19 53.56 L642.23 47.8 L643.27 42.31 L644.31 37.17 L645.35 32.42 L646.39 28.12 L647.43 24.32 L648.47 21.1 L649.51 18.5 L650.55 16.57 L651.59 15.38 L652.63 14.7 L653.67 14.25 L654.71 14.02 L655.75 14 L656.79 14.17 L657.83 14.53 L658.87 15.07 L659.91 15.77 L660.95 16.62 L661.99 17.61 L663.03 18.73 L664.08 19.96 L665.12 21.33 L666.16 22.77 L667.2 23.99 L668.24 24.63 L669.28 24.36 L670.32 22.64 L671.36 18.73 L672.4 13.85 L673.44 9.45 L674.48 7.02 L675.52 8.09 L676.56 13.24 L677.6 20.62" stroke="#ff0000" stroke-width="1.4" fill="none" stroke-linejoin="round"/>
<path d="M391.5 141.14 L392.54 133.42 L393.58 125.67 L394.62 117.87 L395.66 109.99 L396.7 102.01 L397.74 93.93 L398.78 85.57 L399.82 76.75 L400.86 67.85 L401.9 59.25 L402.94 51.34 L403.98 44.49 L405.02 38.93 L406.07 33.98 L407.11 29.47 L408.15 25.4 L409.19 21.78 L410.23 18.59 L411.27 15.83 L412.31 13.49 L413.35 11.58 L414.39 10.09 L415.43 9 L416.47 8.32 L417.51 8.05 L418.55 8.06 L419.59 8.24 L420.63 8.56 L421.67 9.01 L422.71 9.54 L423.75 10.16 L424.79 10.82 L425.83 11.51 L426.87 12.2 L427.91 12.88 L428.95 13.51 L429.99 14.08 L431.03 14.57 L432.07 15.03 L433.11 15.46 L434.15 15.86 L435.2 16.22 L436.24 16.54 L437.28 16.82 L438.32 17.06 L439.36 17.25 L440.4 17.39 L441.44 17.48 L442.48 17.51 L443.52 17.48 L444.56 17.38 L445.6 17.21 L446.64 16.98 L447.68 16.69 L448.72 16.36 L449.76 15.98 L450.8 15.58 L451.84 15.17 L452.88 14.74 L453.92 14.31 L454.96 13.89 L456 13.48 L457.04 13.1 L458.08 12.71 L459.12 12.31 L460.16 11.92 L461.2 11.53 L462.24 11.15 L463.29 10.78 L464.33 10.42 L465.37 10.09 L466.41 9.79 L467.45 9.52 L468.49 9.29 L469.53 9.1 L470.57 8.93 L471.61 8.78 L472.65 8.65 L473.69 8.53 L474.73 8.42 L475.77 8.33 L476.81 8.25 L477.85 8.19 L478.89 8.14 L479.93 8.09 L480.97 8.07 L482.01 8.05 L483.05 8.05 L484.09 8.06 L485.13 8.08 L486.17 8.11 L487.21 8.16 L488.25 8.22 L489.29 8.3 L490.33 8.39 L491.37 8.5 L492.42 8.62 L493.46 8.76 L494.5 8.92 L495.54 9.1 L496.58 9.31 L497.62 9.56 L498.66 9.86 L499.7 10.19 L500.74 10.54 L501.78 10.92 L502.82 11.3 L503.86 11.69 L504.9 12.07 L505.94 12.44 L506.98 12.8 L508.02 13.13 L509.06 13.44 L510.1 13.72 L511.14 13.99 L512.18 14.26 L513.22 14.51 L514.26 14.75 L515.3 14.99 L516.34 15.23 L517.38 15.46 L518.42 15.7 L519.46 15.94 L520.51 16.18 L521.55 16.43 L522.59 16.7 L523.63 16.99 L524.67 17.29 L525.71 17.6 L526.75 17.91 L527.79 18.22 L528.83 18.51 L529.87 18.78 L530.91 19.02 L531.95 19.23 L532.99 19.41 L534.03 19.53 L535.07 19.61 L536.11 19.67 L537.15 19.71 L538.19 19.74 L539.23 19.76 L540.27 19.77 L541.31 19.76 L542.35 19.75 L543.39 19.73 L544.43 19.7 L545.47 19.66 L546.51 19.62 L547.55 19.58 L548.59 19.51 L549.64 19.43 L550.68 19.32 L551.72 19.18 L552.76 19.03 L553.8 18.86 L554.84 18.68 L555.88 18.48 L556.92 18.27 L557.96 18.05 L559 17.83 L560.04 17.6 L561.08 17.36 L562.12 17.09 L563.16 16.8 L564.2 16.49 L565.24 16.17 L566.28 15.85 L567.32 15.54 L568.36 15.25 L569.4 14.98 L570.44 14.75 L571.48 14.56 L572.52 14.42 L573.56 14.34 L574.6 14.31 L575.64 14.34 L576.68 14.41 L577.73 14.53 L578.77 14.7 L579.81 14.91 L580.85 15.18 L581.89 15.49 L582.93 15.85 L583.97 16.25 L585.01 16.71 L586.05 17.21 L587.09 17.78 L588.13 18.58 L589.17 19.62 L590.21 20.92 L591.25 22.49 L592.29 24.33 L593.33 26.46 L594.37 28.89 L595.41 31.62 L596.45 34.67 L597.49 38.04 L598.53 41.74 L599.57 45.78 L600.61 50.47 L601.65 56.03 L602.69 62.29 L603.73 69.12 L604.77 76.36 L605.81 83.85 L606.86 91.46 L607.9 99.03 L608.94 106.41 L609.98 113.45 L611.02 119.99 L612.06 125.9 L613.1 131.14 L614.14 136.12 L615.18 140.41 L616.22 143.46 L617.26 144.71 L618.3 143.87 L619.34 141.27 L620.38 137.22 L621.42 132.05 L622.46 126.08 L623.5 119.62 L624.54 113.01 L625.58 106.56 L626.62 100.12 L627.66 93.4 L628.7 86.5 L629.74 79.51 L630.78 72.55 L631.82 65.7 L632.86 59.08 L633.9 52.77 L634.95 46.89 L635.99 41.54 L637.03 36.81 L638.07 32.8 L639.11 29.55 L640.15 26.64 L641.19 24 L642.23 21.62 L643.27 19.49 L644.31 17.63 L645.35 16 L646.39 14.63 L647.43 13.48 L648.47 12.58 L649.51 11.89 L650.55 11.43 L651.59 11.19 L652.63 11.08 L653.67 11.03 L654.71 11.03 L655.75 11.1 L656.79 11.22 L657.83 11.41 L658.87 11.66 L659.91 11.98 L660.95 12.38 L661.99 12.84 L663.03 13.38 L664.08 14 L665.12 14.73 L666.16 15.82 L667.2 17.31 L668.24 19.18 L669.28 21.44 L670.32 24.13 L671.36 27.44 L672.4 31.34 L673.44 35.77 L674.48 40.65 L675.52 45.91 L676.56 51.49 L677.6 57.3" stroke="#0000ff" stroke-width="1.4" fill="none" stroke-linejoin="round"/>
<rect x="389.2" y="182.86" width="4.6" height="4.6" fill="#000000"/>
<rect x="402.2" y="117.88" width="4.6" height="4.6" fill="#000000"/>
<rect x="415.21" y="41.38" width="4.6" height="4.6" fill="#000000"/>
<rect x="428.21" y="33" width="4.6" height="4.6" fill="#000000"/>
<rect x="441.22" y="39.28" width="4.6" height="4.6" fill="#000000"/>
<rect x="454.22" y="38.24" width="4.6" height="4.6" fill="#000000"/>
<rect x="467.23" y="33" width="4.6" height="4.6" fill="#000000"/>
<rect x="480.23" y="26.71" width="4.6" height="4.6" fill="#000000"/>
<rect x="493.24" y="23.56" width="4.6" height="4.6" fill="#000000"/>
<rect x="506.24" y="23.56" width="4.6" height="4.6" fill="#000000"/>
<rect x="519.25" y="24.61" width="4.6" height="4.6" fill="#000000"/>
<rect x="532.25" y="26.71" width="4.6" height="4.6" fill="#000000"/>
<rect x="545.25" y="27.76" width="4.6" height="4.6" fill="#000000"/>
<rect x="558.26" y="27.76" width="4.6" height="4.6" fill="#000000"/>
<rect x="571.26" y="26.71" width="4.6" height="4.6" fill="#000000"/>
<rect x="584.27" y="26.71" width="4.6" height="4.6" fill="#000000"/>
<rect x="597.27" y="34.04" width="4.6" height="4.6" fill="#000000"/>
<rect x="610.28" y="65.48" width="4.6" height="4.6" fill="#000000"/>
<rect x="623.28" y="133.6" width="4.6" height="4.6" fill="#000000"/>
<rect x="636.29" y="140.94" width="4.6" height="4.6" fill="#000000"/>
<rect x="649.29" y="46.62" width="4.6" height="4.6" fill="#000000"/>
<rect x="662.3" y="18.32" width="4.6" height="4.6" fill="#000000"/>
<rect x="675.3" y="21.47" width="4.6" height="4.6" fill="#000000"/>
<circle cx="391.5" cy="167.34" r="2.55" fill="#ff0000"/>
<circle cx="404.5" cy="77.22" r="2.55" fill="#ff0000"/>
<circle cx="417.51" cy="14.34" r="2.55" fill="#ff0000"/>
<circle cx="430.51" cy="16.43" r="2.55" fill="#ff0000"/>
<circle cx="443.52" cy="21.67" r="2.55" fill="#ff0000"/>
<circle cx="456.52" cy="19.58" r="2.55" fill="#ff0000"/>
<circle cx="469.53" cy="15.38" r="2.55" fill="#ff0000"/>
<circle cx="482.53" cy="12.24" r="2.55" fill="#ff0000"/>
<circle cx="495.54" cy="12.24" r="2.55" fill="#ff0000"/>
<circle cx="508.54" cy="14.34" r="2.55" fill="#ff0000"/>
<circle cx="521.55" cy="17.48" r="2.55" fill="#ff0000"/>
<circle cx="534.55" cy="20.62" r="2.55" fill="#ff0000"/>
<circle cx="547.55" cy="20.62" r="2.55" fill="#ff0000"/>
<circle cx="560.56" cy="18.53" r="2.55" fill="#ff0000"/>
<circle cx="573.56" cy="16.43" r="2.55" fill="#ff0000"/>
<circle cx="586.57" cy="17.48" r="2.55" fill="#ff0000"/>
<circle cx="599.57" cy="36.34" r="2.55" fill="#ff0000"/>
<circle cx="612.58" cy="98.18" r="2.55" fill="#ff0000"/>
<circle cx="625.58" cy="151.62" r="2.55" fill="#ff0000"/>
<circle cx="638.59" cy="68.83" r="2.55" fill="#ff0000"/>
<circle cx="651.59" cy="15.38" r="2.55" fill="#ff0000"/>
<circle cx="664.6" cy="20.62" r="2.55" fill="#ff0000"/>
<circle cx="677.6" cy="20.62" r="2.55" fill="#ff0000"/>
<path d="M391.5 137.54 L394.5 143.54 L388.5 143.54 Z" fill="#0000ff"/>
<path d="M404.5 37.98 L407.5 43.98 L401.5 43.98 Z" fill="#0000ff"/>
<path d="M417.51 4.45 L420.51 10.45 L414.51 10.45 Z" fill="#0000ff"/>
<path d="M430.51 10.74 L433.51 16.74 L427.51 16.74 Z" fill="#0000ff"/>
<path d="M443.52 13.88 L446.52 19.88 L440.52 19.88 Z" fill="#0000ff"/>
<path d="M456.52 9.69 L459.52 15.69 L453.52 15.69 Z" fill="#0000ff"/>
<path d="M469.53 5.5 L472.53 11.5 L466.53 11.5 Z" fill="#0000ff"/>
<path d="M482.53 4.45 L485.53 10.45 L479.53 10.45 Z" fill="#0000ff"/>
<path d="M495.54 5.5 L498.54 11.5 L492.54 11.5 Z" fill="#0000ff"/>
<path d="M508.54 9.69 L511.54 15.69 L505.54 15.69 Z" fill="#0000ff"/>
<path d="M521.55 12.83 L524.55 18.83 L518.55 18.83 Z" fill="#0000ff"/>
<path d="M534.55 15.98 L537.55 21.98 L531.55 21.98 Z" fill="#0000ff"/>
<path d="M547.55 15.98 L550.55 21.98 L544.55 21.98 Z" fill="#0000ff"/>
<path d="M560.56 13.88 L563.56 19.88 L557.56 19.88 Z" fill="#0000ff"/>
<path d="M573.56 10.74 L576.56 16.74 L570.56 16.74 Z" fill="#0000ff"/>
<path d="M586.57 13.88 L589.57 19.88 L583.57 19.88 Z" fill="#0000ff"/>
<path d="M599.57 42.18 L602.57 48.18 L596.57 48.18 Z" fill="#0000ff"/>
<path d="M612.58 124.97 L615.58 130.97 L609.58 130.97 Z" fill="#0000ff"/>
<path d="M625.58 102.96 L628.58 108.96 L622.58 108.96 Z" fill="#0000ff"/>
<path d="M638.59 27.5 L641.59 33.5 L635.59 33.5 Z" fill="#0000ff"/>
<path d="M651.59 7.59 L654.59 13.59 L648.59 13.59 Z" fill="#0000ff"/>
<path d="M664.6 10.74 L667.6 16.74 L661.6 16.74 Z" fill="#0000ff"/>
<path d="M677.6 53.7 L680.6 59.7 L674.6 59.7 Z" fill="#0000ff"/>
</g>
<path d="M677.6 7 V216.6" stroke="#666" stroke-width="1.2" fill="none"/>
<path d="M391.5 7 H678.2" stroke="#3c3c3c" stroke-width="1.35" fill="none"/>
<path d="M391.5 6.5 V216.6 H678.1" stroke="#000" stroke-width="1.1" fill="none"/>
<path d="M391.5 216.6 h-3.6 M391.5 195.64 h-3.6 M391.5 174.68 h-3.6 M391.5 153.72 h-3.6 M391.5 132.76 h-3.6 M391.5 111.8 h-3.6 M391.5 90.84 h-3.6 M391.5 69.88 h-3.6 M391.5 48.92 h-3.6 M391.5 27.96 h-3.6 M391.5 7 h-3.6 M391.5 206.12 h-2 M391.5 185.16 h-2 M391.5 164.2 h-2 M391.5 143.24 h-2 M391.5 122.28 h-2 M391.5 101.32 h-2 M391.5 80.36 h-2 M391.5 59.4 h-2 M391.5 38.44 h-2 M391.5 17.48 h-2 M391.5 216.6 v3.4 M417.51 216.6 v3.4 M443.52 216.6 v3.4 M469.53 216.6 v3.4 M495.54 216.6 v3.4 M521.55 216.6 v3.4 M547.55 216.6 v3.4 M573.56 216.6 v3.4 M599.57 216.6 v3.4 M625.58 216.6 v3.4 M651.59 216.6 v3.4 M677.6 216.6 v3.4 M404.5 216.6 v2 M430.51 216.6 v2 M456.52 216.6 v2 M482.53 216.6 v2 M508.54 216.6 v2 M534.55 216.6 v2 M560.56 216.6 v2 M586.57 216.6 v2 M612.58 216.6 v2 M638.59 216.6 v2 M664.6 216.6 v2" stroke="#000" stroke-width="0.9" fill="none"/>
<g font-family="'Liberation Sans', sans-serif" font-size="8.6" fill="#000" stroke="#000" stroke-width="0.1">
<text x="384.9" y="219.5" text-anchor="end">0</text>
<text x="384.9" y="198.54" text-anchor="end">10</text>
<text x="384.9" y="177.58" text-anchor="end">20</text>
<text x="384.9" y="156.62" text-anchor="end">30</text>
<text x="384.9" y="135.66" text-anchor="end">40</text>
<text x="384.9" y="114.7" text-anchor="end">50</text>
<text x="384.9" y="93.74" text-anchor="end">60</text>
<text x="384.9" y="72.78" text-anchor="end">70</text>
<text x="384.9" y="51.82" text-anchor="end">80</text>
<text x="384.9" y="30.86" text-anchor="end">90</text>
<text x="384.9" y="9.9" text-anchor="end">100</text>
<text x="391.5" y="230.3" text-anchor="middle">4</text>
<text x="417.51" y="230.3" text-anchor="middle">5</text>
<text x="443.52" y="230.3" text-anchor="middle">6</text>
<text x="469.53" y="230.3" text-anchor="middle">7</text>
<text x="495.54" y="230.3" text-anchor="middle">8</text>
<text x="521.55" y="230.3" text-anchor="middle">9</text>
<text x="547.55" y="230.3" text-anchor="middle">10</text>
<text x="573.56" y="230.3" text-anchor="middle">11</text>
<text x="599.57" y="230.3" text-anchor="middle">12</text>
<text x="625.58" y="230.3" text-anchor="middle">13</text>
<text x="651.59" y="230.3" text-anchor="middle">14</text>
<text x="677.6" y="230.3" text-anchor="middle">15</text>
</g>
<text x="534.7" y="247.8" text-anchor="middle" font-family="'Liberation Sans', sans-serif" font-size="10.55" fill="#111" stroke="#111" stroke-width="0.15">Frequency [GHz]</text>
<text transform="translate(363.4 119.8) rotate(-90)" text-anchor="middle" font-family="'Liberation Sans', sans-serif" font-size="10.3" fill="#111" stroke="#111" stroke-width="0.15">Absorptivity [%]</text>
<text x="525.5" y="267.4" text-anchor="middle" font-family="'Liberation Serif', serif" font-weight="bold" font-size="15.3" fill="#111">(b)</text>
<rect x="594.7" y="167.9" width="82.9" height="48.7" fill="#fff" stroke="#444" stroke-width="0.8"/>
<rect x="596.9" y="168.5" width="24.4" height="12.4" fill="none" stroke="#f06a6a" stroke-width="0.7"/>
<path d="M597.7 174.7 H620.5" stroke="#000000" stroke-width="1.25"/>
<rect x="607" y="172.6" width="4.2" height="4.2" fill="#000000"/>
<text x="623" y="178.4" font-family="'Liberation Sans', sans-serif" font-size="10.55" fill="#1a1a1a" xml:space="preserve">t<tspan font-size="5.91" dy="3.1">1</tspan><tspan dy="-3.1"> = 1.6 mm</tspan></text>
<path d="M597.7 191 H620.5" stroke="#ff0000" stroke-width="1.25"/>
<circle cx="609.1" cy="191" r="2.35" fill="#ff0000"/>
<text x="623" y="194.7" font-family="'Liberation Sans', sans-serif" font-size="10.55" fill="#1a1a1a" xml:space="preserve">t<tspan font-size="5.91" dy="3.1">1</tspan><tspan dy="-3.1"> = 2.0 mm</tspan></text>
<path d="M597.7 207.4 H620.5" stroke="#0000ff" stroke-width="1.25"/>
<path d="M609.1 204 L611.9 209.6 L606.3 209.6 Z" fill="#0000ff"/>
<text x="623" y="211.1" font-family="'Liberation Sans', sans-serif" font-size="10.55" fill="#1a1a1a" xml:space="preserve">t<tspan font-size="5.91" dy="3.1">1</tspan><tspan dy="-3.1"> = 2.4 mm</tspan></text>
</g>
<g id="panel-c">
<clipPath id="clip-c"><rect x="41" y="279.4" width="284.7" height="210.2"/></clipPath>
<path d="M66.85 280 V489.6 M92.69 280 V489.6 M118.54 280 V489.6 M144.38 280 V489.6 M170.23 280 V489.6 M196.07 280 V489.6 M221.92 280 V489.6 M247.76 280 V489.6 M273.61 280 V489.6 M299.45 280 V489.6 M41 468.64 H325.3 M41 447.68 H325.3 M41 426.72 H325.3 M41 405.76 H325.3 M41 384.8 H325.3 M41 363.84 H325.3 M41 342.88 H325.3 M41 321.92 H325.3 M41 300.96 H325.3" stroke="#b0b0b0" stroke-width="0.8" stroke-dasharray="6 3" fill="none"/>
<rect x="113.8" y="381.6" width="101.7" height="101.3" fill="#fff"/>
<rect x="115.9" y="383.5" width="97.8" height="97.6" fill="#a6a414"/>
<circle cx="164.6" cy="432.3" r="41.2" fill="#c97f45" stroke="#a86a3a" stroke-width="0.5"/>
<path d="M138.3 406 L162.76 430.46" stroke="#acad20" stroke-width="5" fill="none"/>
<path d="M190.7 406 L166.43 430.45" stroke="#acad20" stroke-width="5" fill="none"/>
<path d="M138.3 458.6 L162.76 434.14" stroke="#acad20" stroke-width="5" fill="none"/>
<path d="M190.7 458.6 L166.43 434.15" stroke="#acad20" stroke-width="5" fill="none"/>
<path d="M138.3 402.3 l3.7 3.7 l-3.7 3.7 l-3.7 -3.7 Z" fill="#111"/>
<path d="M190.7 402.3 l3.7 3.7 l-3.7 3.7 l-3.7 -3.7 Z" fill="#111"/>
<path d="M138.3 454.9 l3.7 3.7 l-3.7 3.7 l-3.7 -3.7 Z" fill="#111"/>
<path d="M190.7 454.9 l3.7 3.7 l-3.7 3.7 l-3.7 -3.7 Z" fill="#111"/>
<path d="M164.9 433.2 V473.2" stroke="#35150a" stroke-width="0.85"/><text x="159.6" y="458.4" font-family="'Liberation Serif', serif" font-style="italic" font-weight="bold" font-size="8.6" fill="#24140a">r</text>
<g clip-path="url(#clip-c)">
<path d="M41 473.88 L42.03 472.64 L43.07 471.31 L44.1 469.89 L45.14 468.39 L46.17 466.79 L47.2 465.09 L48.24 463.29 L49.27 461.38 L50.3 459.32 L51.34 457.09 L52.37 454.7 L53.41 452.14 L54.44 449.42 L55.47 446.54 L56.51 443.49 L57.54 440.22 L58.57 436.71 L59.61 432.98 L60.64 429.05 L61.68 424.96 L62.71 420.72 L63.74 416.36 L64.78 411.89 L65.81 407.22 L66.85 402.38 L67.88 397.43 L68.91 392.41 L69.95 387.38 L70.98 382.38 L72.01 377.46 L73.05 372.6 L74.08 367.73 L75.12 362.91 L76.15 358.18 L77.18 353.57 L78.22 349.13 L79.25 344.9 L80.29 340.9 L81.32 337.05 L82.35 333.34 L83.39 329.81 L84.42 326.45 L85.45 323.31 L86.49 320.4 L87.52 317.73 L88.56 315.27 L89.59 312.99 L90.62 310.85 L91.66 308.87 L92.69 307.04 L93.72 305.35 L94.76 303.79 L95.79 302.35 L96.83 301.02 L97.86 299.77 L98.89 298.61 L99.93 297.53 L100.96 296.51 L102 295.56 L103.03 294.67 L104.06 293.83 L105.1 293.03 L106.13 292.28 L107.16 291.57 L108.2 290.9 L109.23 290.28 L110.27 289.7 L111.3 289.17 L112.33 288.68 L113.37 288.22 L114.4 287.78 L115.43 287.38 L116.47 286.99 L117.5 286.63 L118.54 286.29 L119.57 285.96 L120.6 285.63 L121.64 285.33 L122.67 285.04 L123.71 284.76 L124.74 284.52 L125.77 284.29 L126.81 284.1 L127.84 283.92 L128.87 283.76 L129.91 283.62 L130.94 283.49 L131.98 283.37 L133.01 283.25 L134.04 283.14 L135.08 283.04 L136.11 282.93 L137.15 282.82 L138.18 282.72 L139.21 282.64 L140.25 282.57 L141.28 282.53 L142.31 282.51 L143.35 282.51 L144.38 282.55 L145.42 282.61 L146.45 282.69 L147.48 282.81 L148.52 282.96 L149.55 283.14 L150.58 283.39 L151.62 283.72 L152.65 284.11 L153.69 284.55 L154.72 285.03 L155.75 285.53 L156.79 286.04 L157.82 286.54 L158.86 287.05 L159.89 287.58 L160.92 288.13 L161.96 288.69 L162.99 289.27 L164.02 289.87 L165.06 290.48 L166.09 291.11 L167.13 291.76 L168.16 292.44 L169.19 293.13 L170.23 293.85 L171.26 294.58 L172.29 295.34 L173.33 296.11 L174.36 296.91 L175.4 297.74 L176.43 298.58 L177.46 299.43 L178.5 300.29 L179.53 301.15 L180.57 302.01 L181.6 302.86 L182.63 303.71 L183.67 304.55 L184.7 305.4 L185.73 306.24 L186.77 307.07 L187.8 307.89 L188.84 308.7 L189.87 309.5 L190.9 310.3 L191.94 311.08 L192.97 311.86 L194.01 312.63 L195.04 313.4 L196.07 314.16 L197.11 314.92 L198.14 315.68 L199.17 316.42 L200.21 317.17 L201.24 317.92 L202.28 318.68 L203.31 319.44 L204.34 320.21 L205.38 320.99 L206.41 321.79 L207.44 322.58 L208.48 323.37 L209.51 324.16 L210.55 324.93 L211.58 325.69 L212.61 326.44 L213.65 327.17 L214.68 327.88 L215.72 328.6 L216.75 329.32 L217.78 330.04 L218.82 330.77 L219.85 331.52 L220.88 332.28 L221.92 333.05 L222.95 333.83 L223.99 334.62 L225.02 335.41 L226.05 336.21 L227.09 337.01 L228.12 337.81 L229.15 338.61 L230.19 339.42 L231.22 340.24 L232.26 341.08 L233.29 341.94 L234.32 342.84 L235.36 343.77 L236.39 344.73 L237.43 345.73 L238.46 346.76 L239.49 347.85 L240.53 348.99 L241.56 350.2 L242.59 351.47 L243.63 352.82 L244.66 354.24 L245.7 355.75 L246.73 357.35 L247.76 359.05 L248.8 360.87 L249.83 362.82 L250.87 364.9 L251.9 367.17 L252.93 369.64 L253.97 372.32 L255 375.25 L256.03 378.43 L257.07 381.89 L258.1 385.64 L259.14 389.86 L260.17 394.61 L261.2 399.73 L262.24 405.03 L263.27 410.34 L264.3 415.49 L265.34 420.3 L266.37 424.72 L267.41 429.01 L268.44 432.49 L269.47 434.36 L270.51 433.93 L271.54 431.44 L272.58 427.45 L273.61 422.53 L274.64 416.41 L275.68 408.83 L276.71 400.31 L277.74 391.39 L278.78 382.6 L279.81 374.47 L280.85 367.54 L281.88 362.13 L282.91 357.47 L283.95 353.41 L284.98 349.97 L286.01 347.18 L287.05 345.05 L288.08 343.61 L289.12 342.88 L290.15 342.6 L291.18 342.48 L292.22 342.52 L293.25 342.71 L294.29 343.06 L295.32 343.55 L296.35 344.19 L297.39 345.01 L298.42 346.26 L299.45 347.93 L300.49 349.97 L301.52 352.3 L302.56 354.87 L303.59 357.62 L304.62 360.49 L305.66 363.66 L306.69 367.26 L307.73 371.08 L308.76 374.95 L309.79 378.66 L310.83 382.04 L311.86 384.89 L312.89 387.1 L313.93 388.7 L314.96 388.99 L316 386.77 L317.03 381.96 L318.06 375.4 L319.1 367.95 L320.13 360.49 L321.16 353.18 L322.2 345.66 L323.23 337.94 L324.27 330.02 L325.3 321.92" stroke="#000000" stroke-width="1.4" fill="none" stroke-linejoin="round"/>
<path d="M41 458.16 L42.03 455.2 L43.07 452.06 L44.1 448.72 L45.14 445.18 L46.17 441.4 L47.2 437.4 L48.24 433.14 L49.27 428.59 L50.3 423.63 L51.34 418.27 L52.37 412.6 L53.41 406.66 L54.44 400.54 L55.47 394.27 L56.51 387.94 L57.54 381.45 L58.57 374.74 L59.61 367.91 L60.64 361.08 L61.68 354.35 L62.71 347.83 L63.74 341.63 L64.78 335.81 L65.81 330.16 L66.85 324.71 L67.88 319.52 L68.91 314.69 L69.95 310.28 L70.98 306.38 L72.01 303.06 L73.05 300.21 L74.08 297.66 L75.12 295.41 L76.15 293.43 L77.18 291.7 L78.22 290.21 L79.25 288.94 L80.29 287.86 L81.32 286.87 L82.35 285.97 L83.39 285.16 L84.42 284.47 L85.45 283.89 L86.49 283.45 L87.52 283.14 L88.56 282.95 L89.59 282.8 L90.62 282.7 L91.66 282.64 L92.69 282.59 L93.72 282.56 L94.76 282.53 L95.79 282.5 L96.83 282.45 L97.86 282.4 L98.89 282.34 L99.93 282.28 L100.96 282.22 L102 282.16 L103.03 282.1 L104.06 282.03 L105.1 281.97 L106.13 281.91 L107.16 281.85 L108.2 281.79 L109.23 281.74 L110.27 281.7 L111.3 281.66 L112.33 281.62 L113.37 281.58 L114.4 281.55 L115.43 281.52 L116.47 281.5 L117.5 281.48 L118.54 281.47 L119.57 281.46 L120.6 281.45 L121.64 281.45 L122.67 281.45 L123.71 281.45 L124.74 281.46 L125.77 281.46 L126.81 281.47 L127.84 281.49 L128.87 281.52 L129.91 281.55 L130.94 281.58 L131.98 281.61 L133.01 281.65 L134.04 281.68 L135.08 281.7 L136.11 281.73 L137.15 281.77 L138.18 281.81 L139.21 281.87 L140.25 281.94 L141.28 282.04 L142.31 282.16 L143.35 282.35 L144.38 282.58 L145.42 282.85 L146.45 283.16 L147.48 283.49 L148.52 283.84 L149.55 284.19 L150.58 284.56 L151.62 284.96 L152.65 285.38 L153.69 285.81 L154.72 286.25 L155.75 286.69 L156.79 287.12 L157.82 287.55 L158.86 287.97 L159.89 288.39 L160.92 288.81 L161.96 289.23 L162.99 289.64 L164.02 290.06 L165.06 290.48 L166.09 290.9 L167.13 291.32 L168.16 291.74 L169.19 292.16 L170.23 292.58 L171.26 293 L172.29 293.42 L173.33 293.83 L174.36 294.25 L175.4 294.66 L176.43 295.08 L177.46 295.49 L178.5 295.91 L179.53 296.34 L180.57 296.77 L181.6 297.21 L182.63 297.66 L183.67 298.11 L184.7 298.57 L185.73 299.02 L186.77 299.47 L187.8 299.91 L188.84 300.33 L189.87 300.76 L190.9 301.17 L191.94 301.58 L192.97 301.97 L194.01 302.35 L195.04 302.72 L196.07 303.06 L197.11 303.38 L198.14 303.68 L199.17 303.97 L200.21 304.25 L201.24 304.52 L202.28 304.78 L203.31 305.03 L204.34 305.27 L205.38 305.51 L206.41 305.75 L207.44 305.98 L208.48 306.2 L209.51 306.41 L210.55 306.62 L211.58 306.83 L212.61 307.02 L213.65 307.21 L214.68 307.39 L215.72 307.58 L216.75 307.77 L217.78 307.97 L218.82 308.18 L219.85 308.42 L220.88 308.67 L221.92 308.94 L222.95 309.23 L223.99 309.55 L225.02 309.88 L226.05 310.23 L227.09 310.6 L228.12 311 L229.15 311.42 L230.19 311.86 L231.22 312.35 L232.26 312.87 L233.29 313.44 L234.32 314.05 L235.36 314.72 L236.39 315.45 L237.43 316.27 L238.46 317.18 L239.49 318.19 L240.53 319.31 L241.56 320.55 L242.59 321.92 L243.63 323.47 L244.66 325.23 L245.7 327.19 L246.73 329.35 L247.76 331.69 L248.8 334.2 L249.83 336.87 L250.87 339.72 L251.9 342.84 L252.93 346.25 L253.97 349.93 L255 353.87 L256.03 358.07 L257.07 362.52 L258.1 367.19 L259.14 372.3 L260.17 377.88 L261.2 383.73 L262.24 389.62 L263.27 395.33 L264.3 400.66 L265.34 405.38 L266.37 409.37 L267.41 412.98 L268.44 415.77 L269.47 417.2 L270.51 416.84 L271.54 414.82 L272.58 411.55 L273.61 407.44 L274.64 402.23 L275.68 395.68 L276.71 388.15 L277.74 380.02 L278.78 371.64 L279.81 363.4 L280.85 355.67 L281.88 348.69 L282.91 342.07 L283.95 335.75 L284.98 329.79 L286.01 324.25 L287.05 319.16 L288.08 314.6 L289.12 310.6 L290.15 307.05 L291.18 303.78 L292.22 300.8 L293.25 298.12 L294.29 295.73 L295.32 293.65 L296.35 291.88 L297.39 290.4 L298.42 289.09 L299.45 287.92 L300.49 286.9 L301.52 286.02 L302.56 285.28 L303.59 284.67 L304.62 284.19 L305.66 283.8 L306.69 283.45 L307.73 283.15 L308.76 282.9 L309.79 282.71 L310.83 282.59 L311.86 282.52 L312.89 282.53 L313.93 282.59 L314.96 282.71 L316 282.87 L317.03 283.07 L318.06 283.29 L319.1 283.53 L320.13 283.77 L321.16 284.03 L322.2 284.31 L323.23 284.61 L324.27 284.92 L325.3 285.24" stroke="#ff0000" stroke-width="1.4" fill="none" stroke-linejoin="round"/>
<path d="M41 414.14 L42.03 405.77 L43.07 397.48 L44.1 389.26 L45.14 381.13 L46.17 373.08 L47.2 365.12 L48.24 357.25 L49.27 349.45 L50.3 341.52 L51.34 333.62 L52.37 325.92 L53.41 318.61 L54.44 311.89 L55.47 305.95 L56.51 300.96 L57.54 296.7 L58.57 292.84 L59.61 289.43 L60.64 286.52 L61.68 284.17 L62.71 282.42 L63.74 281.33 L64.78 280.89 L65.81 280.72 L66.85 280.73 L67.88 280.89 L68.91 281.18 L69.95 281.57 L70.98 282.02 L72.01 282.52 L73.05 283.08 L74.08 283.74 L75.12 284.45 L76.15 285.19 L77.18 285.9 L78.22 286.56 L79.25 287.11 L80.29 287.54 L81.32 287.92 L82.35 288.26 L83.39 288.56 L84.42 288.8 L85.45 289 L86.49 289.14 L87.52 289.22 L88.56 289.27 L89.59 289.3 L90.62 289.32 L91.66 289.32 L92.69 289.32 L93.72 289.29 L94.76 289.25 L95.79 289.18 L96.83 289.05 L97.86 288.86 L98.89 288.62 L99.93 288.34 L100.96 288.02 L102 287.68 L103.03 287.34 L104.06 286.96 L105.1 286.53 L106.13 286.08 L107.16 285.62 L108.2 285.17 L109.23 284.74 L110.27 284.36 L111.3 284.04 L112.33 283.75 L113.37 283.5 L114.4 283.26 L115.43 283.06 L116.47 282.86 L117.5 282.68 L118.54 282.52 L119.57 282.35 L120.6 282.19 L121.64 282.03 L122.67 281.89 L123.71 281.75 L124.74 281.62 L125.77 281.52 L126.81 281.42 L127.84 281.34 L128.87 281.26 L129.91 281.19 L130.94 281.13 L131.98 281.09 L133.01 281.06 L134.04 281.05 L135.08 281.05 L136.11 281.07 L137.15 281.11 L138.18 281.16 L139.21 281.23 L140.25 281.31 L141.28 281.41 L142.31 281.53 L143.35 281.69 L144.38 281.89 L145.42 282.11 L146.45 282.36 L147.48 282.61 L148.52 282.88 L149.55 283.14 L150.58 283.41 L151.62 283.69 L152.65 283.97 L153.69 284.25 L154.72 284.54 L155.75 284.82 L156.79 285.1 L157.82 285.38 L158.86 285.65 L159.89 285.91 L160.92 286.18 L161.96 286.45 L162.99 286.74 L164.02 287.03 L165.06 287.34 L166.09 287.67 L167.13 288.02 L168.16 288.39 L169.19 288.75 L170.23 289.1 L171.26 289.43 L172.29 289.72 L173.33 289.97 L174.36 290.19 L175.4 290.39 L176.43 290.57 L177.46 290.73 L178.5 290.87 L179.53 290.99 L180.57 291.11 L181.6 291.22 L182.63 291.32 L183.67 291.43 L184.7 291.52 L185.73 291.6 L186.77 291.67 L187.8 291.72 L188.84 291.75 L189.87 291.78 L190.9 291.8 L191.94 291.81 L192.97 291.81 L194.01 291.8 L195.04 291.78 L196.07 291.74 L197.11 291.66 L198.14 291.53 L199.17 291.37 L200.21 291.18 L201.24 290.97 L202.28 290.77 L203.31 290.57 L204.34 290.39 L205.38 290.23 L206.41 290.07 L207.44 289.91 L208.48 289.75 L209.51 289.58 L210.55 289.41 L211.58 289.22 L212.61 289.02 L213.65 288.8 L214.68 288.56 L215.72 288.32 L216.75 288.09 L217.78 287.86 L218.82 287.64 L219.85 287.45 L220.88 287.26 L221.92 287.09 L222.95 286.93 L223.99 286.81 L225.02 286.72 L226.05 286.69 L227.09 286.71 L228.12 286.82 L229.15 287.06 L230.19 287.41 L231.22 287.86 L232.26 288.39 L233.29 289.01 L234.32 289.7 L235.36 290.45 L236.39 291.37 L237.43 292.46 L238.46 293.75 L239.49 295.23 L240.53 296.92 L241.56 298.83 L242.59 300.96 L243.63 303.46 L244.66 306.46 L245.7 309.94 L246.73 313.89 L247.76 318.28 L248.8 323.11 L249.83 328.36 L250.87 334.1 L251.9 340.71 L252.93 348 L253.97 355.68 L255 363.49 L256.03 371.13 L257.07 378.33 L258.1 384.8 L259.14 390.67 L260.17 396.21 L261.2 401.37 L262.24 406.09 L263.27 410.31 L264.3 413.98 L265.34 417.05 L266.37 419.5 L267.41 420.32 L268.44 417.71 L269.47 412.23 L270.51 404.73 L271.54 396.05 L272.58 387.03 L273.61 378.51 L274.64 370.55 L275.68 362.7 L276.71 355.06 L277.74 347.71 L278.78 340.76 L279.81 334.29 L280.85 328.39 L281.88 323.11 L282.91 318.14 L283.95 313.46 L284.98 309.1 L286.01 305.1 L287.05 301.48 L288.08 298.27 L289.12 295.51 L290.15 293.06 L291.18 290.79 L292.22 288.74 L293.25 286.97 L294.29 285.51 L295.32 284.42 L296.35 283.74 L297.39 283.47 L298.42 283.39 L299.45 283.44 L300.49 283.56 L301.52 283.73 L302.56 283.92 L303.59 284.08 L304.62 284.19 L305.66 284.23 L306.69 284.21 L307.73 284.18 L308.76 284.19 L309.79 284.26 L310.83 284.45 L311.86 284.79 L312.89 285.37 L313.93 286.51 L314.96 288.2 L316 290.37 L317.03 292.96 L318.06 295.91 L319.1 299.16 L320.13 302.64 L321.16 306.51 L322.2 310.9 L323.23 315.71 L324.27 320.82 L325.3 326.11" stroke="#0000ff" stroke-width="1.4" fill="none" stroke-linejoin="round"/>
<rect x="38.7" y="471.58" width="4.6" height="4.6" fill="#000000"/>
<rect x="46.45" y="460.05" width="4.6" height="4.6" fill="#000000"/>
<rect x="54.21" y="441.19" width="4.6" height="4.6" fill="#000000"/>
<rect x="61.96" y="411.84" width="4.6" height="4.6" fill="#000000"/>
<rect x="69.71" y="375.16" width="4.6" height="4.6" fill="#000000"/>
<rect x="77.47" y="340.58" width="4.6" height="4.6" fill="#000000"/>
<rect x="85.22" y="315.43" width="4.6" height="4.6" fill="#000000"/>
<rect x="92.98" y="300.76" width="4.6" height="4.6" fill="#000000"/>
<rect x="100.73" y="292.37" width="4.6" height="4.6" fill="#000000"/>
<rect x="108.48" y="287.13" width="4.6" height="4.6" fill="#000000"/>
<rect x="116.24" y="283.99" width="4.6" height="4.6" fill="#000000"/>
<rect x="123.99" y="281.89" width="4.6" height="4.6" fill="#000000"/>
<rect x="131.74" y="280.84" width="4.6" height="4.6" fill="#000000"/>
<rect x="139.5" y="280.22" width="4.6" height="4.6" fill="#000000"/>
<rect x="147.25" y="280.84" width="4.6" height="4.6" fill="#000000"/>
<rect x="155" y="283.99" width="4.6" height="4.6" fill="#000000"/>
<rect x="162.76" y="288.18" width="4.6" height="4.6" fill="#000000"/>
<rect x="170.51" y="293.42" width="4.6" height="4.6" fill="#000000"/>
<rect x="178.27" y="299.71" width="4.6" height="4.6" fill="#000000"/>
<rect x="186.02" y="306" width="4.6" height="4.6" fill="#000000"/>
<rect x="193.77" y="311.86" width="4.6" height="4.6" fill="#000000"/>
<rect x="201.53" y="317.52" width="4.6" height="4.6" fill="#000000"/>
<rect x="209.28" y="323.39" width="4.6" height="4.6" fill="#000000"/>
<rect x="217.03" y="328.84" width="4.6" height="4.6" fill="#000000"/>
<rect x="224.79" y="334.71" width="4.6" height="4.6" fill="#000000"/>
<rect x="232.54" y="341" width="4.6" height="4.6" fill="#000000"/>
<rect x="240.29" y="349.17" width="4.6" height="4.6" fill="#000000"/>
<rect x="248.05" y="361.54" width="4.6" height="4.6" fill="#000000"/>
<rect x="255.8" y="383.34" width="4.6" height="4.6" fill="#000000"/>
<rect x="263.56" y="420.23" width="4.6" height="4.6" fill="#000000"/>
<rect x="271.31" y="420.23" width="4.6" height="4.6" fill="#000000"/>
<rect x="279.06" y="362.38" width="4.6" height="4.6" fill="#000000"/>
<rect x="286.82" y="340.58" width="4.6" height="4.6" fill="#000000"/>
<rect x="294.57" y="342.26" width="4.6" height="4.6" fill="#000000"/>
<rect x="302.32" y="358.19" width="4.6" height="4.6" fill="#000000"/>
<rect x="310.08" y="383.76" width="4.6" height="4.6" fill="#000000"/>
<rect x="317.83" y="358.19" width="4.6" height="4.6" fill="#000000"/>
<circle cx="41" cy="458.16" r="2.55" fill="#ff0000"/>
<circle cx="48.75" cy="430.91" r="2.55" fill="#ff0000"/>
<circle cx="56.51" cy="387.94" r="2.55" fill="#ff0000"/>
<circle cx="64.26" cy="338.69" r="2.55" fill="#ff0000"/>
<circle cx="72.01" cy="303.06" r="2.55" fill="#ff0000"/>
<circle cx="79.77" cy="288.38" r="2.55" fill="#ff0000"/>
<circle cx="87.52" cy="283.14" r="2.55" fill="#ff0000"/>
<circle cx="95.28" cy="282.52" r="2.55" fill="#ff0000"/>
<circle cx="103.03" cy="282.1" r="2.55" fill="#ff0000"/>
<circle cx="110.78" cy="281.68" r="2.55" fill="#ff0000"/>
<circle cx="118.54" cy="281.47" r="2.55" fill="#ff0000"/>
<circle cx="126.29" cy="281.47" r="2.55" fill="#ff0000"/>
<circle cx="134.04" cy="281.68" r="2.55" fill="#ff0000"/>
<circle cx="141.8" cy="282.1" r="2.55" fill="#ff0000"/>
<circle cx="149.55" cy="284.19" r="2.55" fill="#ff0000"/>
<circle cx="157.3" cy="287.34" r="2.55" fill="#ff0000"/>
<circle cx="165.06" cy="290.48" r="2.55" fill="#ff0000"/>
<circle cx="172.81" cy="293.62" r="2.55" fill="#ff0000"/>
<circle cx="180.57" cy="296.77" r="2.55" fill="#ff0000"/>
<circle cx="188.32" cy="300.12" r="2.55" fill="#ff0000"/>
<circle cx="196.07" cy="303.06" r="2.55" fill="#ff0000"/>
<circle cx="203.83" cy="305.15" r="2.55" fill="#ff0000"/>
<circle cx="211.58" cy="306.83" r="2.55" fill="#ff0000"/>
<circle cx="219.33" cy="308.3" r="2.55" fill="#ff0000"/>
<circle cx="227.09" cy="310.6" r="2.55" fill="#ff0000"/>
<circle cx="234.84" cy="314.37" r="2.55" fill="#ff0000"/>
<circle cx="242.59" cy="321.92" r="2.55" fill="#ff0000"/>
<circle cx="250.35" cy="338.27" r="2.55" fill="#ff0000"/>
<circle cx="258.1" cy="367.19" r="2.55" fill="#ff0000"/>
<circle cx="265.86" cy="407.44" r="2.55" fill="#ff0000"/>
<circle cx="273.61" cy="407.44" r="2.55" fill="#ff0000"/>
<circle cx="281.36" cy="352.1" r="2.55" fill="#ff0000"/>
<circle cx="289.12" cy="310.6" r="2.55" fill="#ff0000"/>
<circle cx="296.87" cy="291.11" r="2.55" fill="#ff0000"/>
<circle cx="304.62" cy="284.19" r="2.55" fill="#ff0000"/>
<circle cx="312.38" cy="282.52" r="2.55" fill="#ff0000"/>
<circle cx="320.13" cy="283.77" r="2.55" fill="#ff0000"/>
<path d="M41 410.54 L44 416.54 L38 416.54 Z" fill="#0000ff"/>
<path d="M48.75 349.76 L51.75 355.76 L45.75 355.76 Z" fill="#0000ff"/>
<path d="M56.51 297.36 L59.51 303.36 L53.51 303.36 Z" fill="#0000ff"/>
<path d="M64.26 277.45 L67.26 283.45 L61.26 283.45 Z" fill="#0000ff"/>
<path d="M72.01 278.92 L75.01 284.92 L69.01 284.92 Z" fill="#0000ff"/>
<path d="M79.77 283.74 L82.77 289.74 L76.77 289.74 Z" fill="#0000ff"/>
<path d="M87.52 285.62 L90.52 291.62 L84.52 291.62 Z" fill="#0000ff"/>
<path d="M95.28 285.62 L98.28 291.62 L92.28 291.62 Z" fill="#0000ff"/>
<path d="M103.03 283.74 L106.03 289.74 L100.03 289.74 Z" fill="#0000ff"/>
<path d="M110.78 280.59 L113.78 286.59 L107.78 286.59 Z" fill="#0000ff"/>
<path d="M118.54 278.92 L121.54 284.92 L115.54 284.92 Z" fill="#0000ff"/>
<path d="M126.29 277.87 L129.29 283.87 L123.29 283.87 Z" fill="#0000ff"/>
<path d="M134.04 277.45 L137.04 283.45 L131.04 283.45 Z" fill="#0000ff"/>
<path d="M141.8 277.87 L144.8 283.87 L138.8 283.87 Z" fill="#0000ff"/>
<path d="M149.55 279.54 L152.55 285.54 L146.55 285.54 Z" fill="#0000ff"/>
<path d="M157.3 281.64 L160.3 287.64 L154.3 287.64 Z" fill="#0000ff"/>
<path d="M165.06 283.74 L168.06 289.74 L162.06 289.74 Z" fill="#0000ff"/>
<path d="M172.81 286.25 L175.81 292.25 L169.81 292.25 Z" fill="#0000ff"/>
<path d="M180.57 287.51 L183.57 293.51 L177.57 293.51 Z" fill="#0000ff"/>
<path d="M188.32 288.14 L191.32 294.14 L185.32 294.14 Z" fill="#0000ff"/>
<path d="M196.07 288.14 L199.07 294.14 L193.07 294.14 Z" fill="#0000ff"/>
<path d="M203.83 286.88 L206.83 292.88 L200.83 292.88 Z" fill="#0000ff"/>
<path d="M211.58 285.62 L214.58 291.62 L208.58 291.62 Z" fill="#0000ff"/>
<path d="M219.33 283.95 L222.33 289.95 L216.33 289.95 Z" fill="#0000ff"/>
<path d="M227.09 283.11 L230.09 289.11 L224.09 289.11 Z" fill="#0000ff"/>
<path d="M234.84 286.46 L237.84 292.46 L231.84 292.46 Z" fill="#0000ff"/>
<path d="M242.59 297.36 L245.59 303.36 L239.59 303.36 Z" fill="#0000ff"/>
<path d="M250.35 327.54 L253.35 333.54 L247.35 333.54 Z" fill="#0000ff"/>
<path d="M258.1 381.2 L261.1 387.2 L255.1 387.2 Z" fill="#0000ff"/>
<path d="M265.86 414.74 L268.86 420.74 L262.86 420.74 Z" fill="#0000ff"/>
<path d="M273.61 374.91 L276.61 380.91 L270.61 380.91 Z" fill="#0000ff"/>
<path d="M281.36 322.09 L284.36 328.09 L278.36 328.09 Z" fill="#0000ff"/>
<path d="M289.12 291.91 L292.12 297.91 L286.12 297.91 Z" fill="#0000ff"/>
<path d="M296.87 279.96 L299.87 285.96 L293.87 285.96 Z" fill="#0000ff"/>
<path d="M304.62 280.59 L307.62 286.59 L301.62 286.59 Z" fill="#0000ff"/>
<path d="M312.38 281.43 L315.38 287.43 L309.38 287.43 Z" fill="#0000ff"/>
<path d="M320.13 299.04 L323.13 305.04 L317.13 305.04 Z" fill="#0000ff"/>
</g>
<path d="M325.3 280 V489.6" stroke="#666" stroke-width="1.2" fill="none"/>
<path d="M41 280 H325.9" stroke="#3c3c3c" stroke-width="1.35" fill="none"/>
<path d="M41 279.5 V489.6 H325.8" stroke="#000" stroke-width="1.1" fill="none"/>
<path d="M41 489.6 h-3.6 M41 468.64 h-3.6 M41 447.68 h-3.6 M41 426.72 h-3.6 M41 405.76 h-3.6 M41 384.8 h-3.6 M41 363.84 h-3.6 M41 342.88 h-3.6 M41 321.92 h-3.6 M41 300.96 h-3.6 M41 280 h-3.6 M41 479.12 h-2 M41 458.16 h-2 M41 437.2 h-2 M41 416.24 h-2 M41 395.28 h-2 M41 374.32 h-2 M41 353.36 h-2 M41 332.4 h-2 M41 311.44 h-2 M41 290.48 h-2 M41 489.6 v3.4 M66.85 489.6 v3.4 M92.69 489.6 v3.4 M118.54 489.6 v3.4 M144.38 489.6 v3.4 M170.23 489.6 v3.4 M196.07 489.6 v3.4 M221.92 489.6 v3.4 M247.76 489.6 v3.4 M273.61 489.6 v3.4 M299.45 489.6 v3.4 M325.3 489.6 v3.4 M53.92 489.6 v2 M79.77 489.6 v2 M105.61 489.6 v2 M131.46 489.6 v2 M157.3 489.6 v2 M183.15 489.6 v2 M209 489.6 v2 M234.84 489.6 v2 M260.69 489.6 v2 M286.53 489.6 v2 M312.38 489.6 v2" stroke="#000" stroke-width="0.9" fill="none"/>
<g font-family="'Liberation Sans', sans-serif" font-size="8.6" fill="#000" stroke="#000" stroke-width="0.1">
<text x="33.9" y="492.5" text-anchor="end">0</text>
<text x="33.9" y="471.54" text-anchor="end">10</text>
<text x="33.9" y="450.58" text-anchor="end">20</text>
<text x="33.9" y="429.62" text-anchor="end">30</text>
<text x="33.9" y="408.66" text-anchor="end">40</text>
<text x="33.9" y="387.7" text-anchor="end">50</text>
<text x="33.9" y="366.74" text-anchor="end">60</text>
<text x="33.9" y="345.78" text-anchor="end">70</text>
<text x="33.9" y="324.82" text-anchor="end">80</text>
<text x="33.9" y="303.86" text-anchor="end">90</text>
<text x="33.9" y="282.9" text-anchor="end">100</text>
<text x="41" y="503.3" text-anchor="middle">4</text>
<text x="66.85" y="503.3" text-anchor="middle">5</text>
<text x="92.69" y="503.3" text-anchor="middle">6</text>
<text x="118.54" y="503.3" text-anchor="middle">7</text>
<text x="144.38" y="503.3" text-anchor="middle">8</text>
<text x="170.23" y="503.3" text-anchor="middle">9</text>
<text x="196.07" y="503.3" text-anchor="middle">10</text>
<text x="221.92" y="503.3" text-anchor="middle">11</text>
<text x="247.76" y="503.3" text-anchor="middle">12</text>
<text x="273.61" y="503.3" text-anchor="middle">13</text>
<text x="299.45" y="503.3" text-anchor="middle">14</text>
<text x="325.3" y="503.3" text-anchor="middle">15</text>
</g>
<text x="183" y="520.8" text-anchor="middle" font-family="'Liberation Sans', sans-serif" font-size="10.55" fill="#111" stroke="#111" stroke-width="0.15">Frequency [GHz]</text>
<text transform="translate(11.5 392.1) rotate(-90)" text-anchor="middle" font-family="'Liberation Sans', sans-serif" font-size="10.3" fill="#111" stroke="#111" stroke-width="0.15">Absorptivity [%]</text>
<text x="181.5" y="540.6" text-anchor="middle" font-family="'Liberation Serif', serif" font-weight="bold" font-size="15.3" fill="#111">(c)</text>
<rect x="245.4" y="450.2" width="79.9" height="38.9" fill="#fff" stroke="#444" stroke-width="0.8"/>
<rect x="246.8" y="451" width="24.2" height="12.4" fill="none" stroke="#f06a6a" stroke-width="0.7"/>
<path d="M247.6 457.2 H270.2" stroke="#000000" stroke-width="1.25"/>
<rect x="256.8" y="455.1" width="4.2" height="4.2" fill="#000000"/>
<text x="273" y="460.9" font-family="'Liberation Sans', sans-serif" font-size="10.75" fill="#1a1a1a" xml:space="preserve">r = 4.5 mm</text>
<path d="M247.6 470.3 H270.2" stroke="#ff0000" stroke-width="1.25"/>
<circle cx="258.9" cy="470.3" r="2.35" fill="#ff0000"/>
<text x="273" y="474" font-family="'Liberation Sans', sans-serif" font-size="10.75" fill="#1a1a1a" xml:space="preserve">r = 5.0 mm</text>
<path d="M247.6 483.4 H270.2" stroke="#0000ff" stroke-width="1.25"/>
<path d="M258.9 480 L261.7 485.6 L256.1 485.6 Z" fill="#0000ff"/>
<text x="273" y="487.1" font-family="'Liberation Sans', sans-serif" font-size="10.75" fill="#1a1a1a" xml:space="preserve">r = 5.5 mm</text>
</g>
<g id="panel-d">
<clipPath id="clip-d"><rect x="391.5" y="281.7" width="283.9" height="207.4"/></clipPath>
<path d="M417.27 282.3 V489.1 M443.05 282.3 V489.1 M468.82 282.3 V489.1 M494.59 282.3 V489.1 M520.36 282.3 V489.1 M546.14 282.3 V489.1 M571.91 282.3 V489.1 M597.68 282.3 V489.1 M623.45 282.3 V489.1 M649.23 282.3 V489.1 M391.5 458.08 H675 M391.5 416.72 H675 M391.5 375.36 H675 M391.5 334 H675 M391.5 292.64 H675" stroke="#b0b0b0" stroke-width="0.8" stroke-dasharray="6 3" fill="none"/>
<path d="M391.5 478.76 H675 M391.5 437.4 H675 M391.5 396.04 H675 M391.5 354.68 H675 M391.5 313.32 H675" stroke="#9c9c9c" stroke-width="0.9" stroke-dasharray="6 3" fill="none"/>
<rect x="428.5" y="362.8" width="118.5" height="116.5" fill="#fff"/>
<rect x="434" y="367.4" width="107.2" height="105.8" fill="#a6a414"/>
<circle cx="487.5" cy="420.4" r="44.8" fill="#c97f45" stroke="#a86a3a" stroke-width="0.5"/>
<path d="M458.9 392.3 L485.65 418.58" stroke="#acad20" stroke-width="5" fill="none"/>
<path d="M515.9 392.3 L489.35 418.57" stroke="#acad20" stroke-width="5" fill="none"/>
<path d="M458.9 448.8 L485.66 422.23" stroke="#acad20" stroke-width="5" fill="none"/>
<path d="M515.9 448.8 L489.34 422.24" stroke="#acad20" stroke-width="5" fill="none"/>
<path d="M458.9 388.3 l4 4 l-4 4 l-4 -4 Z" fill="#111"/>
<path d="M515.9 388.3 l4 4 l-4 4 l-4 -4 Z" fill="#111"/>
<path d="M458.9 444.8 l4 4 l-4 4 l-4 -4 Z" fill="#111"/>
<path d="M515.9 444.8 l4 4 l-4 4 l-4 -4 Z" fill="#111"/>
<path d="M499.4 385.8 L513.4 390.2" stroke="#2a1a10" stroke-width="0.7"/><text x="489.2" y="388.3" font-family="'Liberation Serif', serif" font-style="italic" font-weight="bold" font-size="8.6" fill="#120c06">R<tspan font-size="5.6" dy="1.6">1</tspan></text>
<g clip-path="url(#clip-d)">
<path d="M391.5 417.75 L392.53 410.41 L393.56 403.09 L394.59 395.78 L395.62 388.48 L396.65 381.19 L397.69 373.9 L398.72 366.6 L399.75 359.26 L400.78 351.72 L401.81 344.11 L402.84 336.61 L403.87 329.4 L404.9 322.65 L405.93 316.55 L406.96 311.25 L407.99 306.59 L409.03 302.31 L410.06 298.44 L411.09 295.04 L412.12 292.15 L413.15 289.82 L414.18 288.09 L415.21 286.96 L416.24 286.08 L417.27 285.4 L418.3 284.89 L419.33 284.55 L420.37 284.36 L421.4 284.3 L422.43 284.37 L423.46 284.57 L424.49 284.9 L425.52 285.32 L426.55 285.81 L427.58 286.32 L428.61 286.81 L429.64 287.27 L430.67 287.66 L431.71 288.03 L432.74 288.39 L433.77 288.72 L434.8 289.02 L435.83 289.26 L436.86 289.44 L437.89 289.54 L438.92 289.59 L439.95 289.62 L440.98 289.63 L442.01 289.63 L443.05 289.61 L444.08 289.59 L445.11 289.56 L446.14 289.51 L447.17 289.44 L448.2 289.34 L449.23 289.21 L450.26 289.06 L451.29 288.89 L452.32 288.7 L453.35 288.5 L454.39 288.28 L455.42 288.02 L456.45 287.74 L457.48 287.45 L458.51 287.15 L459.54 286.85 L460.57 286.57 L461.6 286.31 L462.63 286.06 L463.66 285.82 L464.69 285.58 L465.73 285.36 L466.76 285.16 L467.79 284.96 L468.82 284.78 L469.85 284.61 L470.88 284.45 L471.91 284.3 L472.94 284.15 L473.97 284.02 L475 283.9 L476.03 283.8 L477.07 283.7 L478.1 283.62 L479.13 283.54 L480.16 283.47 L481.19 283.41 L482.22 283.37 L483.25 283.34 L484.28 283.33 L485.31 283.35 L486.34 283.38 L487.37 283.43 L488.41 283.5 L489.44 283.57 L490.47 283.64 L491.5 283.71 L492.53 283.78 L493.56 283.85 L494.59 283.92 L495.62 284 L496.65 284.08 L497.68 284.16 L498.71 284.26 L499.75 284.37 L500.78 284.49 L501.81 284.63 L502.84 284.78 L503.87 284.94 L504.9 285.09 L505.93 285.23 L506.96 285.35 L507.99 285.45 L509.02 285.53 L510.05 285.6 L511.09 285.66 L512.12 285.73 L513.15 285.8 L514.18 285.9 L515.21 286.02 L516.24 286.19 L517.27 286.4 L518.3 286.64 L519.33 286.89 L520.36 287.14 L521.39 287.38 L522.43 287.59 L523.46 287.76 L524.49 287.9 L525.52 288.02 L526.55 288.12 L527.58 288.22 L528.61 288.31 L529.64 288.41 L530.67 288.5 L531.7 288.61 L532.73 288.73 L533.77 288.85 L534.8 288.97 L535.83 289.08 L536.86 289.19 L537.89 289.29 L538.92 289.37 L539.95 289.44 L540.98 289.51 L542.01 289.57 L543.04 289.62 L544.07 289.66 L545.11 289.71 L546.14 289.74 L547.17 289.78 L548.2 289.82 L549.23 289.86 L550.26 289.89 L551.29 289.92 L552.32 289.94 L553.35 289.95 L554.38 289.95 L555.41 289.95 L556.45 289.95 L557.48 289.94 L558.51 289.94 L559.54 289.94 L560.57 289.94 L561.6 289.95 L562.63 289.98 L563.66 290.02 L564.69 290.09 L565.72 290.18 L566.75 290.27 L567.79 290.39 L568.82 290.51 L569.85 290.64 L570.88 290.79 L571.91 290.98 L572.94 291.19 L573.97 291.44 L575 291.73 L576.03 292.06 L577.06 292.43 L578.09 292.88 L579.13 293.42 L580.16 294.06 L581.19 294.8 L582.22 295.65 L583.25 296.6 L584.28 297.65 L585.31 298.83 L586.34 300.21 L587.37 301.78 L588.4 303.55 L589.43 305.51 L590.47 307.66 L591.5 309.99 L592.53 312.49 L593.56 315.25 L594.59 318.32 L595.62 321.7 L596.65 325.4 L597.68 329.42 L598.71 333.74 L599.74 338.39 L600.77 343.4 L601.81 349.08 L602.84 355.31 L603.87 361.93 L604.9 368.74 L605.93 375.57 L606.96 382.25 L607.99 388.6 L609.02 394.86 L610.05 401.14 L611.08 407.04 L612.11 412.16 L613.15 416.09 L614.18 418.43 L615.21 418.79 L616.24 416.31 L617.27 412.52 L618.3 407.7 L619.33 402.07 L620.36 395.82 L621.39 389.15 L622.42 382.26 L623.45 375.36 L624.49 368.28 L625.52 360.86 L626.55 353.3 L627.58 345.83 L628.61 338.63 L629.64 331.93 L630.67 325.92 L631.7 320.74 L632.73 315.98 L633.76 311.6 L634.79 307.65 L635.83 304.15 L636.86 301.15 L637.89 298.68 L638.92 296.78 L639.95 295.28 L640.98 293.98 L642.01 292.89 L643.04 292.01 L644.07 291.34 L645.1 290.87 L646.13 290.62 L647.17 290.56 L648.2 290.62 L649.23 290.75 L650.26 290.94 L651.29 291.16 L652.32 291.4 L653.35 291.62 L654.38 291.81 L655.41 291.96 L656.44 292.08 L657.47 292.18 L658.51 292.27 L659.54 292.36 L660.57 292.46 L661.6 292.57 L662.63 292.74 L663.66 293.11 L664.69 293.76 L665.72 294.75 L666.75 296.14 L667.78 297.97 L668.81 300.3 L669.85 303.19 L670.88 307.09 L671.91 312.21 L672.94 318.27 L673.97 324.94 L675 331.93" stroke="#000000" stroke-width="1.4" fill="none" stroke-linejoin="round"/>
<path d="M391.5 415.69 L392.53 407.49 L393.56 399.36 L394.59 391.28 L395.62 383.27 L396.65 375.32 L397.69 367.43 L398.72 359.6 L399.75 351.79 L400.78 343.81 L401.81 335.81 L402.84 328 L403.87 320.6 L404.9 313.82 L405.93 307.88 L406.96 302.98 L407.99 298.89 L409.03 295.24 L410.06 292.06 L411.09 289.38 L412.12 287.23 L413.15 285.64 L414.18 284.64 L415.21 284.19 L416.24 283.94 L417.27 283.79 L418.3 283.75 L419.33 283.8 L420.37 283.93 L421.4 284.12 L422.43 284.37 L423.46 284.76 L424.49 285.34 L425.52 286.06 L426.55 286.87 L427.58 287.7 L428.61 288.5 L429.64 289.23 L430.67 289.83 L431.71 290.4 L432.74 290.95 L433.77 291.45 L434.8 291.89 L435.83 292.25 L436.86 292.5 L437.89 292.64 L438.92 292.69 L439.95 292.69 L440.98 292.64 L442.01 292.56 L443.05 292.44 L444.08 292.29 L445.11 292.11 L446.14 291.91 L447.17 291.66 L448.2 291.36 L449.23 291.02 L450.26 290.66 L451.29 290.28 L452.32 289.9 L453.35 289.54 L454.39 289.18 L455.42 288.81 L456.45 288.44 L457.48 288.07 L458.51 287.7 L459.54 287.35 L460.57 287.01 L461.6 286.69 L462.63 286.37 L463.66 286.07 L464.69 285.77 L465.73 285.49 L466.76 285.23 L467.79 284.99 L468.82 284.78 L469.85 284.59 L470.88 284.4 L471.91 284.23 L472.94 284.08 L473.97 283.94 L475 283.84 L476.03 283.77 L477.07 283.73 L478.1 283.71 L479.13 283.69 L480.16 283.68 L481.19 283.68 L482.22 283.69 L483.25 283.72 L484.28 283.75 L485.31 283.81 L486.34 283.9 L487.37 284.02 L488.41 284.17 L489.44 284.34 L490.47 284.51 L491.5 284.69 L492.53 284.87 L493.56 285.06 L494.59 285.27 L495.62 285.49 L496.65 285.71 L497.68 285.95 L498.71 286.19 L499.75 286.44 L500.78 286.69 L501.81 286.96 L502.84 287.23 L503.87 287.51 L504.9 287.8 L505.93 288.08 L506.96 288.36 L507.99 288.64 L509.02 288.92 L510.05 289.2 L511.09 289.47 L512.12 289.75 L513.15 290.02 L514.18 290.3 L515.21 290.57 L516.24 290.85 L517.27 291.12 L518.3 291.39 L519.33 291.67 L520.36 291.94 L521.39 292.22 L522.43 292.5 L523.46 292.78 L524.49 293.07 L525.52 293.37 L526.55 293.67 L527.58 293.96 L528.61 294.23 L529.64 294.48 L530.67 294.71 L531.7 294.92 L532.73 295.11 L533.77 295.29 L534.8 295.45 L535.83 295.58 L536.86 295.68 L537.89 295.73 L538.92 295.74 L539.95 295.71 L540.98 295.65 L542.01 295.57 L543.04 295.46 L544.07 295.35 L545.11 295.24 L546.14 295.12 L547.17 295.01 L548.2 294.9 L549.23 294.78 L550.26 294.65 L551.29 294.51 L552.32 294.35 L553.35 294.18 L554.38 293.99 L555.41 293.76 L556.45 293.5 L557.48 293.22 L558.51 292.93 L559.54 292.62 L560.57 292.32 L561.6 292.02 L562.63 291.71 L563.66 291.4 L564.69 291.08 L565.72 290.77 L566.75 290.49 L567.79 290.24 L568.82 290.03 L569.85 289.88 L570.88 289.76 L571.91 289.65 L572.94 289.57 L573.97 289.52 L575 289.49 L576.03 289.5 L577.06 289.54 L578.09 289.65 L579.13 289.86 L580.16 290.17 L581.19 290.57 L582.22 291.06 L583.25 291.63 L584.28 292.28 L585.31 293.03 L586.34 293.97 L587.37 295.12 L588.4 296.48 L589.43 298.05 L590.47 299.83 L591.5 301.82 L592.53 304.01 L593.56 306.54 L594.59 309.5 L595.62 312.88 L596.65 316.67 L597.68 320.85 L598.71 325.42 L599.74 330.36 L600.77 335.74 L601.81 341.92 L602.84 348.79 L603.87 356.12 L604.9 363.69 L605.93 371.29 L606.96 378.7 L607.99 385.7 L609.02 392.57 L610.05 399.43 L611.08 405.88 L612.11 411.46 L613.15 415.76 L614.18 418.35 L615.21 418.79 L616.24 416.38 L617.27 412.97 L618.3 408.8 L619.33 403.97 L620.36 398.61 L621.39 392.84 L622.42 386.77 L623.45 380.53 L624.49 373.94 L625.52 366.87 L626.55 359.53 L627.58 352.14 L628.61 344.9 L629.64 338.02 L630.67 331.71 L631.7 326.1 L632.73 320.86 L633.76 315.96 L634.79 311.44 L635.83 307.32 L636.86 303.66 L637.89 300.47 L638.92 297.81 L639.95 295.5 L640.98 293.39 L642.01 291.5 L643.04 289.88 L644.07 288.57 L645.1 287.59 L646.13 287 L647.17 286.78 L648.2 286.75 L649.23 286.86 L650.26 287.06 L651.29 287.31 L652.32 287.59 L653.35 287.86 L654.38 288.09 L655.41 288.25 L656.44 288.36 L657.47 288.45 L658.51 288.55 L659.54 288.68 L660.57 288.87 L661.6 289.15 L662.63 289.58 L663.66 290.39 L664.69 291.61 L665.72 293.27 L666.75 295.37 L667.78 297.92 L668.81 300.94 L669.85 304.43 L670.88 308.72 L671.91 313.99 L672.94 320.01 L673.97 326.55 L675 333.38" stroke="#ff0000" stroke-width="1.4" fill="none" stroke-linejoin="round"/>
<path d="M391.5 414.65 L392.53 406.39 L393.56 398.18 L394.59 390.01 L395.62 381.87 L396.65 373.78 L397.69 365.71 L398.72 357.66 L399.75 349.58 L400.78 341.22 L401.81 332.77 L402.84 324.52 L403.87 316.74 L404.9 309.68 L405.93 303.63 L406.96 298.84 L407.99 295.06 L409.03 291.8 L410.06 289.08 L411.09 286.89 L412.12 285.23 L413.15 284.08 L414.18 283.45 L415.21 283.3 L416.24 283.39 L417.27 283.64 L418.3 284.03 L419.33 284.53 L420.37 285.11 L421.4 285.76 L422.43 286.44 L423.46 287.18 L424.49 288.01 L425.52 288.91 L426.55 289.82 L427.58 290.72 L428.61 291.56 L429.64 292.31 L430.67 292.95 L431.71 293.54 L432.74 294.1 L433.77 294.59 L434.8 295.02 L435.83 295.37 L436.86 295.61 L437.89 295.74 L438.92 295.78 L439.95 295.76 L440.98 295.68 L442.01 295.55 L443.05 295.37 L444.08 295.14 L445.11 294.86 L446.14 294.53 L447.17 294.09 L448.2 293.56 L449.23 292.96 L450.26 292.34 L451.29 291.71 L452.32 291.11 L453.35 290.57 L454.39 290.09 L455.42 289.64 L456.45 289.22 L457.48 288.81 L458.51 288.42 L459.54 288.04 L460.57 287.66 L461.6 287.28 L462.63 286.88 L463.66 286.48 L464.69 286.09 L465.73 285.71 L466.76 285.36 L467.79 285.05 L468.82 284.78 L469.85 284.55 L470.88 284.35 L471.91 284.16 L472.94 284.01 L473.97 283.89 L475 283.8 L476.03 283.75 L477.07 283.75 L478.1 283.78 L479.13 283.83 L480.16 283.91 L481.19 284.01 L482.22 284.12 L483.25 284.24 L484.28 284.37 L485.31 284.5 L486.34 284.65 L487.37 284.82 L488.41 285.01 L489.44 285.21 L490.47 285.44 L491.5 285.68 L492.53 285.95 L493.56 286.26 L494.59 286.6 L495.62 286.96 L496.65 287.33 L497.68 287.72 L498.71 288.12 L499.75 288.5 L500.78 288.89 L501.81 289.27 L502.84 289.67 L503.87 290.07 L504.9 290.48 L505.93 290.92 L506.96 291.37 L507.99 291.85 L509.02 292.37 L510.05 292.92 L511.09 293.48 L512.12 294.04 L513.15 294.57 L514.18 295.08 L515.21 295.54 L516.24 295.94 L517.27 296.32 L518.3 296.67 L519.33 297 L520.36 297.3 L521.39 297.59 L522.43 297.88 L523.46 298.16 L524.49 298.44 L525.52 298.71 L526.55 298.98 L527.58 299.24 L528.61 299.47 L529.64 299.69 L530.67 299.88 L531.7 300.05 L532.73 300.21 L533.77 300.35 L534.8 300.47 L535.83 300.58 L536.86 300.65 L537.89 300.7 L538.92 300.71 L539.95 300.69 L540.98 300.64 L542.01 300.57 L543.04 300.48 L544.07 300.37 L545.11 300.24 L546.14 300.08 L547.17 299.9 L548.2 299.68 L549.23 299.42 L550.26 299.13 L551.29 298.83 L552.32 298.51 L553.35 298.18 L554.38 297.85 L555.41 297.51 L556.45 297.16 L557.48 296.79 L558.51 296.4 L559.54 295.99 L560.57 295.57 L561.6 295.12 L562.63 294.65 L563.66 294.14 L564.69 293.6 L565.72 293.06 L566.75 292.51 L567.79 291.97 L568.82 291.44 L569.85 290.94 L570.88 290.42 L571.91 289.9 L572.94 289.4 L573.97 288.95 L575 288.56 L576.03 288.27 L577.06 288.09 L578.09 288 L579.13 287.95 L580.16 287.95 L581.19 287.99 L582.22 288.08 L583.25 288.21 L584.28 288.39 L585.31 288.65 L586.34 289.11 L587.37 289.8 L588.4 290.72 L589.43 291.87 L590.47 293.27 L591.5 294.9 L592.53 296.78 L593.56 299.1 L594.59 302.03 L595.62 305.53 L596.65 309.54 L597.68 314.02 L598.71 318.93 L599.74 324.21 L600.77 329.9 L601.81 336.45 L602.84 343.73 L603.87 351.5 L604.9 359.55 L605.93 367.63 L606.96 375.53 L607.99 383.01 L609.02 390.37 L610.05 397.76 L611.08 404.71 L612.11 410.75 L613.15 415.42 L614.18 418.25 L615.21 418.79 L616.24 416.44 L617.27 413.35 L618.3 409.7 L619.33 405.53 L620.36 400.91 L621.39 395.89 L622.42 390.53 L623.45 384.87 L624.49 378.72 L625.52 371.99 L626.55 364.89 L627.58 357.62 L628.61 350.41 L629.64 343.46 L630.67 336.99 L631.7 331.14 L632.73 325.63 L633.76 320.41 L634.79 315.53 L635.83 311.01 L636.86 306.87 L637.89 303.15 L638.92 299.88 L639.95 296.88 L640.98 294.03 L642.01 291.41 L643.04 289.08 L644.07 287.12 L645.1 285.62 L646.13 284.64 L647.17 284.2 L648.2 283.99 L649.23 283.92 L650.26 283.95 L651.29 284.05 L652.32 284.17 L653.35 284.29 L654.38 284.37 L655.41 284.39 L656.44 284.39 L657.47 284.41 L658.51 284.48 L659.54 284.63 L660.57 284.9 L661.6 285.33 L662.63 286 L663.66 287.26 L664.69 289.11 L665.72 291.52 L666.75 294.43 L667.78 297.79 L668.81 301.55 L669.85 305.67 L670.88 310.37 L671.91 315.83 L672.94 321.86 L673.97 328.32 L675 335.03" stroke="#0000ff" stroke-width="1.4" fill="none" stroke-linejoin="round"/>
<rect x="389.2" y="415.45" width="4.6" height="4.6" fill="#000000"/>
<rect x="396.93" y="360.65" width="4.6" height="4.6" fill="#000000"/>
<rect x="404.66" y="308.95" width="4.6" height="4.6" fill="#000000"/>
<rect x="412.4" y="285.17" width="4.6" height="4.6" fill="#000000"/>
<rect x="420.13" y="282.07" width="4.6" height="4.6" fill="#000000"/>
<rect x="427.86" y="285.17" width="4.6" height="4.6" fill="#000000"/>
<rect x="435.59" y="287.24" width="4.6" height="4.6" fill="#000000"/>
<rect x="443.32" y="287.24" width="4.6" height="4.6" fill="#000000"/>
<rect x="451.05" y="286.2" width="4.6" height="4.6" fill="#000000"/>
<rect x="458.79" y="284.14" width="4.6" height="4.6" fill="#000000"/>
<rect x="466.52" y="282.48" width="4.6" height="4.6" fill="#000000"/>
<rect x="474.25" y="281.45" width="4.6" height="4.6" fill="#000000"/>
<rect x="481.98" y="281.03" width="4.6" height="4.6" fill="#000000"/>
<rect x="489.71" y="281.45" width="4.6" height="4.6" fill="#000000"/>
<rect x="497.45" y="282.07" width="4.6" height="4.6" fill="#000000"/>
<rect x="505.18" y="283.1" width="4.6" height="4.6" fill="#000000"/>
<rect x="512.91" y="283.72" width="4.6" height="4.6" fill="#000000"/>
<rect x="520.64" y="285.38" width="4.6" height="4.6" fill="#000000"/>
<rect x="528.37" y="286.2" width="4.6" height="4.6" fill="#000000"/>
<rect x="536.1" y="287.03" width="4.6" height="4.6" fill="#000000"/>
<rect x="543.84" y="287.44" width="4.6" height="4.6" fill="#000000"/>
<rect x="551.57" y="287.65" width="4.6" height="4.6" fill="#000000"/>
<rect x="559.3" y="287.65" width="4.6" height="4.6" fill="#000000"/>
<rect x="567.03" y="288.27" width="4.6" height="4.6" fill="#000000"/>
<rect x="574.76" y="290.13" width="4.6" height="4.6" fill="#000000"/>
<rect x="582.5" y="295.92" width="4.6" height="4.6" fill="#000000"/>
<rect x="590.23" y="310.19" width="4.6" height="4.6" fill="#000000"/>
<rect x="597.96" y="338.52" width="4.6" height="4.6" fill="#000000"/>
<rect x="605.69" y="386.3" width="4.6" height="4.6" fill="#000000"/>
<rect x="613.42" y="415.45" width="4.6" height="4.6" fill="#000000"/>
<rect x="621.15" y="373.06" width="4.6" height="4.6" fill="#000000"/>
<rect x="628.89" y="320.95" width="4.6" height="4.6" fill="#000000"/>
<rect x="636.62" y="294.48" width="4.6" height="4.6" fill="#000000"/>
<rect x="644.35" y="288.27" width="4.6" height="4.6" fill="#000000"/>
<rect x="652.08" y="289.51" width="4.6" height="4.6" fill="#000000"/>
<rect x="659.81" y="290.34" width="4.6" height="4.6" fill="#000000"/>
<rect x="667.55" y="300.89" width="4.6" height="4.6" fill="#000000"/>
<circle cx="391.5" cy="415.69" r="2.55" fill="#ff0000"/>
<circle cx="399.23" cy="355.71" r="2.55" fill="#ff0000"/>
<circle cx="406.96" cy="302.98" r="2.55" fill="#ff0000"/>
<circle cx="414.7" cy="284.37" r="2.55" fill="#ff0000"/>
<circle cx="422.43" cy="284.37" r="2.55" fill="#ff0000"/>
<circle cx="430.16" cy="289.54" r="2.55" fill="#ff0000"/>
<circle cx="437.89" cy="292.64" r="2.55" fill="#ff0000"/>
<circle cx="445.62" cy="292.02" r="2.55" fill="#ff0000"/>
<circle cx="453.35" cy="289.54" r="2.55" fill="#ff0000"/>
<circle cx="461.09" cy="286.85" r="2.55" fill="#ff0000"/>
<circle cx="468.82" cy="284.78" r="2.55" fill="#ff0000"/>
<circle cx="476.55" cy="283.75" r="2.55" fill="#ff0000"/>
<circle cx="484.28" cy="283.75" r="2.55" fill="#ff0000"/>
<circle cx="492.01" cy="284.78" r="2.55" fill="#ff0000"/>
<circle cx="499.75" cy="286.44" r="2.55" fill="#ff0000"/>
<circle cx="507.48" cy="288.5" r="2.55" fill="#ff0000"/>
<circle cx="515.21" cy="290.57" r="2.55" fill="#ff0000"/>
<circle cx="522.94" cy="292.64" r="2.55" fill="#ff0000"/>
<circle cx="530.67" cy="294.71" r="2.55" fill="#ff0000"/>
<circle cx="538.4" cy="295.74" r="2.55" fill="#ff0000"/>
<circle cx="546.14" cy="295.12" r="2.55" fill="#ff0000"/>
<circle cx="553.87" cy="294.09" r="2.55" fill="#ff0000"/>
<circle cx="561.6" cy="292.02" r="2.55" fill="#ff0000"/>
<circle cx="569.33" cy="289.95" r="2.55" fill="#ff0000"/>
<circle cx="577.06" cy="289.54" r="2.55" fill="#ff0000"/>
<circle cx="584.8" cy="292.64" r="2.55" fill="#ff0000"/>
<circle cx="592.53" cy="304.01" r="2.55" fill="#ff0000"/>
<circle cx="600.26" cy="332.97" r="2.55" fill="#ff0000"/>
<circle cx="607.99" cy="385.7" r="2.55" fill="#ff0000"/>
<circle cx="615.72" cy="417.75" r="2.55" fill="#ff0000"/>
<circle cx="623.45" cy="380.53" r="2.55" fill="#ff0000"/>
<circle cx="631.19" cy="328.83" r="2.55" fill="#ff0000"/>
<circle cx="638.92" cy="297.81" r="2.55" fill="#ff0000"/>
<circle cx="646.65" cy="286.85" r="2.55" fill="#ff0000"/>
<circle cx="654.38" cy="288.09" r="2.55" fill="#ff0000"/>
<circle cx="662.11" cy="289.33" r="2.55" fill="#ff0000"/>
<circle cx="669.85" cy="304.43" r="2.55" fill="#ff0000"/>
<path d="M391.5 411.05 L394.5 417.05 L388.5 417.05 Z" fill="#0000ff"/>
<path d="M399.23 350.05 L402.23 356.05 L396.23 356.05 Z" fill="#0000ff"/>
<path d="M406.96 295.24 L409.96 301.24 L403.96 301.24 Z" fill="#0000ff"/>
<path d="M414.7 279.73 L417.7 285.73 L411.7 285.73 Z" fill="#0000ff"/>
<path d="M422.43 282.84 L425.43 288.84 L419.43 288.84 Z" fill="#0000ff"/>
<path d="M430.16 289.04 L433.16 295.04 L427.16 295.04 Z" fill="#0000ff"/>
<path d="M437.89 292.14 L440.89 298.14 L434.89 298.14 Z" fill="#0000ff"/>
<path d="M445.62 291.11 L448.62 297.11 L442.62 297.11 Z" fill="#0000ff"/>
<path d="M453.35 286.97 L456.35 292.97 L450.35 292.97 Z" fill="#0000ff"/>
<path d="M461.09 283.87 L464.09 289.87 L458.09 289.87 Z" fill="#0000ff"/>
<path d="M468.82 281.18 L471.82 287.18 L465.82 287.18 Z" fill="#0000ff"/>
<path d="M476.55 280.15 L479.55 286.15 L473.55 286.15 Z" fill="#0000ff"/>
<path d="M484.28 280.77 L487.28 286.77 L481.28 286.77 Z" fill="#0000ff"/>
<path d="M492.01 282.22 L495.01 288.22 L489.01 288.22 Z" fill="#0000ff"/>
<path d="M499.75 284.9 L502.75 290.9 L496.75 290.9 Z" fill="#0000ff"/>
<path d="M507.48 288.01 L510.48 294.01 L504.48 294.01 Z" fill="#0000ff"/>
<path d="M515.21 291.94 L518.21 297.94 L512.21 297.94 Z" fill="#0000ff"/>
<path d="M522.94 294.42 L525.94 300.42 L519.94 300.42 Z" fill="#0000ff"/>
<path d="M530.67 296.28 L533.67 302.28 L527.67 302.28 Z" fill="#0000ff"/>
<path d="M538.4 297.11 L541.4 303.11 L535.4 303.11 Z" fill="#0000ff"/>
<path d="M546.14 296.48 L549.14 302.48 L543.14 302.48 Z" fill="#0000ff"/>
<path d="M553.87 294.42 L556.87 300.42 L550.87 300.42 Z" fill="#0000ff"/>
<path d="M561.6 291.52 L564.6 297.52 L558.6 297.52 Z" fill="#0000ff"/>
<path d="M569.33 287.59 L572.33 293.59 L566.33 293.59 Z" fill="#0000ff"/>
<path d="M577.06 284.49 L580.06 290.49 L574.06 290.49 Z" fill="#0000ff"/>
<path d="M584.8 284.9 L587.8 290.9 L581.8 290.9 Z" fill="#0000ff"/>
<path d="M592.53 293.18 L595.53 299.18 L589.53 299.18 Z" fill="#0000ff"/>
<path d="M600.26 323.37 L603.26 329.37 L597.26 329.37 Z" fill="#0000ff"/>
<path d="M607.99 379.41 L610.99 385.41 L604.99 385.41 Z" fill="#0000ff"/>
<path d="M615.72 414.15 L618.72 420.15 L612.72 420.15 Z" fill="#0000ff"/>
<path d="M623.45 381.27 L626.45 387.27 L620.45 387.27 Z" fill="#0000ff"/>
<path d="M631.19 330.4 L634.19 336.4 L628.19 336.4 Z" fill="#0000ff"/>
<path d="M638.92 296.28 L641.92 302.28 L635.92 302.28 Z" fill="#0000ff"/>
<path d="M646.65 280.77 L649.65 286.77 L643.65 286.77 Z" fill="#0000ff"/>
<path d="M654.38 280.77 L657.38 286.77 L651.38 286.77 Z" fill="#0000ff"/>
<path d="M662.11 282.01 L665.11 288.01 L659.11 288.01 Z" fill="#0000ff"/>
<path d="M669.85 302.07 L672.85 308.07 L666.85 308.07 Z" fill="#0000ff"/>
</g>
<path d="M675 282.3 V489.1" stroke="#666" stroke-width="1.2" fill="none"/>
<path d="M391.5 282.3 H675.6" stroke="#3c3c3c" stroke-width="1.35" fill="none"/>
<path d="M391.5 281.8 V489.1 H675.5" stroke="#000" stroke-width="1.1" fill="none"/>
<path d="M391.5 489.1 h-3.6 M391.5 468.42 h-3.6 M391.5 447.74 h-3.6 M391.5 427.06 h-3.6 M391.5 406.38 h-3.6 M391.5 385.7 h-3.6 M391.5 365.02 h-3.6 M391.5 344.34 h-3.6 M391.5 323.66 h-3.6 M391.5 302.98 h-3.6 M391.5 282.3 h-3.6 M391.5 478.76 h-2 M391.5 458.08 h-2 M391.5 437.4 h-2 M391.5 416.72 h-2 M391.5 396.04 h-2 M391.5 375.36 h-2 M391.5 354.68 h-2 M391.5 334 h-2 M391.5 313.32 h-2 M391.5 292.64 h-2 M391.5 489.1 v3.4 M417.27 489.1 v3.4 M443.05 489.1 v3.4 M468.82 489.1 v3.4 M494.59 489.1 v3.4 M520.36 489.1 v3.4 M546.14 489.1 v3.4 M571.91 489.1 v3.4 M597.68 489.1 v3.4 M623.45 489.1 v3.4 M649.23 489.1 v3.4 M675 489.1 v3.4 M404.39 489.1 v2 M430.16 489.1 v2 M455.93 489.1 v2 M481.7 489.1 v2 M507.48 489.1 v2 M533.25 489.1 v2 M559.02 489.1 v2 M584.8 489.1 v2 M610.57 489.1 v2 M636.34 489.1 v2 M662.11 489.1 v2" stroke="#000" stroke-width="0.9" fill="none"/>
<g font-family="'Liberation Sans', sans-serif" font-size="8.6" fill="#000" stroke="#000" stroke-width="0.1">
<text x="385.3" y="492" text-anchor="end">0</text>
<text x="385.3" y="471.32" text-anchor="end">10</text>
<text x="385.3" y="450.64" text-anchor="end">20</text>
<text x="385.3" y="429.96" text-anchor="end">30</text>
<text x="385.3" y="409.28" text-anchor="end">40</text>
<text x="385.3" y="388.6" text-anchor="end">50</text>
<text x="385.3" y="367.92" text-anchor="end">60</text>
<text x="385.3" y="347.24" text-anchor="end">70</text>
<text x="385.3" y="326.56" text-anchor="end">80</text>
<text x="385.3" y="305.88" text-anchor="end">90</text>
<text x="385.3" y="285.2" text-anchor="end">100</text>
<text x="391.5" y="502.8" text-anchor="middle">4</text>
<text x="417.27" y="502.8" text-anchor="middle">5</text>
<text x="443.05" y="502.8" text-anchor="middle">6</text>
<text x="468.82" y="502.8" text-anchor="middle">7</text>
<text x="494.59" y="502.8" text-anchor="middle">8</text>
<text x="520.36" y="502.8" text-anchor="middle">9</text>
<text x="546.14" y="502.8" text-anchor="middle">10</text>
<text x="571.91" y="502.8" text-anchor="middle">11</text>
<text x="597.68" y="502.8" text-anchor="middle">12</text>
<text x="623.45" y="502.8" text-anchor="middle">13</text>
<text x="649.23" y="502.8" text-anchor="middle">14</text>
<text x="675" y="502.8" text-anchor="middle">15</text>
</g>
<text x="533.5" y="520" text-anchor="middle" font-family="'Liberation Sans', sans-serif" font-size="10.55" fill="#111" stroke="#111" stroke-width="0.15">Frequency [GHz]</text>
<text transform="translate(363.4 392.8) rotate(-90)" text-anchor="middle" font-family="'Liberation Sans', sans-serif" font-size="10.3" fill="#111" stroke="#111" stroke-width="0.15">Absorptivity [%]</text>
<text x="527.3" y="540" text-anchor="middle" font-family="'Liberation Serif', serif" font-weight="bold" font-size="15.3" fill="#111">(d)</text>
<rect x="577.6" y="450.2" width="97.4" height="38.2" fill="#fff" stroke="#444" stroke-width="0.8"/>
<rect x="578.8" y="450.8" width="24.7" height="12.4" fill="none" stroke="#f06a6a" stroke-width="0.7"/>
<path d="M579.6 457 H602.7" stroke="#000000" stroke-width="1.25"/>
<rect x="589.05" y="454.9" width="4.2" height="4.2" fill="#000000"/>
<text x="606" y="460.7" font-family="'Liberation Sans', sans-serif" font-size="10.45" fill="#1a1a1a" xml:space="preserve">R1 = 110 Ohm</text>
<path d="M579.6 469.8 H602.7" stroke="#ff0000" stroke-width="1.25"/>
<circle cx="591.15" cy="469.8" r="2.35" fill="#ff0000"/>
<text x="606" y="473.5" font-family="'Liberation Sans', sans-serif" font-size="10.45" fill="#1a1a1a" xml:space="preserve">R1 = 130 Ohm</text>
<path d="M579.6 482.9 H602.7" stroke="#0000ff" stroke-width="1.25"/>
<path d="M591.15 479.5 L593.95 485.1 L588.35 485.1 Z" fill="#0000ff"/>
<text x="606" y="486.6" font-family="'Liberation Sans', sans-serif" font-size="10.45" fill="#1a1a1a" xml:space="preserve">R1 = 150 Ohm</text>
</g>
</svg>
</body></html>
